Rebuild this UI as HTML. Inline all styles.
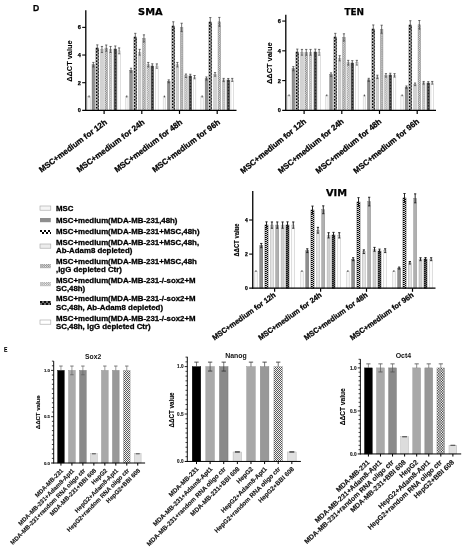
<!DOCTYPE html>
<html><head><meta charset="utf-8"><title>Figure</title>
<style>html,body{margin:0;padding:0;background:#fff}svg{display:block}</style></head>
<body>
<svg width="465" height="550" viewBox="0 0 465 550">

<defs>
<pattern id="p1" width="1.7" height="1.7" patternUnits="userSpaceOnUse"><rect width="1.7" height="1.7" fill="#fdfdfd"/><rect x="0.5" y="0.5" width="0.7" height="0.7" fill="#cfcfcf"/></pattern>
<pattern id="p3" width="3.1" height="3.1" patternUnits="userSpaceOnUse"><rect width="3.1" height="3.1" fill="#fff"/><rect x="0" y="0" width="1.55" height="1.55" fill="#000"/><rect x="1.55" y="1.55" width="1.55" height="1.55" fill="#000"/></pattern>
<pattern id="p4" width="1.4" height="1.4" patternUnits="userSpaceOnUse"><rect width="1.4" height="1.4" fill="#d6d6d6"/><rect x="0.3" y="0.3" width="0.6" height="0.6" fill="#c2c2c2"/></pattern>
<pattern id="p5" width="2.2" height="2.2" patternUnits="userSpaceOnUse"><rect width="2.2" height="2.2" fill="#787878"/><rect x="0.45" y="0" width="1.1" height="1.1" fill="#f4f4f4"/><rect x="1.55" y="1.1" width="0.65" height="1.1" fill="#f4f4f4"/><rect x="0" y="1.1" width="0.45" height="1.1" fill="#f4f4f4"/></pattern>
<pattern id="p6" width="2.2" height="2.2" patternUnits="userSpaceOnUse"><rect width="2.2" height="2.2" fill="#959595"/><rect x="0.45" y="0" width="1.1" height="1.1" fill="#f8f8f8"/><rect x="1.55" y="1.1" width="0.65" height="1.1" fill="#f8f8f8"/><rect x="0" y="1.1" width="0.45" height="1.1" fill="#f8f8f8"/></pattern>
<pattern id="p7" width="3.1" height="3.1" patternUnits="userSpaceOnUse"><rect width="3.1" height="3.1" fill="#666"/><rect x="0.7" y="0.4" width="1.7" height="1.5" fill="#1c1c1c"/></pattern>
<pattern id="v3" width="3.5" height="2" patternUnits="userSpaceOnUse"><rect width="3.5" height="2" fill="#fff"/><rect x="0" y="0" width="1.75" height="1" fill="#000"/><rect x="1.75" y="1" width="1.75" height="1" fill="#000"/></pattern>
<pattern id="v7" width="3.5" height="2" patternUnits="userSpaceOnUse"><rect width="3.5" height="2" fill="#7a7a7a"/><rect x="0" y="0" width="1.75" height="1" fill="#111"/><rect x="1.75" y="1" width="1.75" height="1" fill="#111"/></pattern>
<pattern id="pc2" width="13" height="13" patternUnits="userSpaceOnUse"><rect width="13" height="13" fill="#f4f4f4"/><path d="M0 0h1.3v1.3h-1.3zM0 2.6h1.3v1.3h-1.3zM0 5.2h1.3v1.3h-1.3zM0 7.8h1.3v1.3h-1.3zM0 10.4h1.3v1.3h-1.3zM1.3 1.3h1.3v1.3h-1.3zM1.3 3.9h1.3v1.3h-1.3zM1.3 6.5h1.3v1.3h-1.3zM1.3 9.1h1.3v1.3h-1.3zM1.3 11.7h1.3v1.3h-1.3zM2.6 0h1.3v1.3h-1.3zM2.6 2.6h1.3v1.3h-1.3zM2.6 5.2h1.3v1.3h-1.3zM2.6 7.8h1.3v1.3h-1.3zM2.6 10.4h1.3v1.3h-1.3zM3.9 1.3h1.3v1.3h-1.3zM3.9 3.9h1.3v1.3h-1.3zM3.9 6.5h1.3v1.3h-1.3zM3.9 9.1h1.3v1.3h-1.3zM3.9 11.7h1.3v1.3h-1.3zM5.2 0h1.3v1.3h-1.3zM5.2 2.6h1.3v1.3h-1.3zM5.2 5.2h1.3v1.3h-1.3zM5.2 7.8h1.3v1.3h-1.3zM5.2 10.4h1.3v1.3h-1.3zM6.5 1.3h1.3v1.3h-1.3zM6.5 3.9h1.3v1.3h-1.3zM6.5 6.5h1.3v1.3h-1.3zM6.5 9.1h1.3v1.3h-1.3zM6.5 11.7h1.3v1.3h-1.3zM7.8 0h1.3v1.3h-1.3zM7.8 2.6h1.3v1.3h-1.3zM7.8 5.2h1.3v1.3h-1.3zM7.8 7.8h1.3v1.3h-1.3zM7.8 10.4h1.3v1.3h-1.3zM9.1 1.3h1.3v1.3h-1.3zM9.1 3.9h1.3v1.3h-1.3zM9.1 6.5h1.3v1.3h-1.3zM9.1 9.1h1.3v1.3h-1.3zM9.1 11.7h1.3v1.3h-1.3zM10.4 0h1.3v1.3h-1.3zM10.4 2.6h1.3v1.3h-1.3zM10.4 5.2h1.3v1.3h-1.3zM10.4 7.8h1.3v1.3h-1.3zM10.4 10.4h1.3v1.3h-1.3zM11.7 1.3h1.3v1.3h-1.3zM11.7 3.9h1.3v1.3h-1.3zM11.7 6.5h1.3v1.3h-1.3zM11.7 9.1h1.3v1.3h-1.3zM11.7 11.7h1.3v1.3h-1.3z" fill="#4a4a4a"/></pattern>
<pattern id="l3" width="4" height="4" patternUnits="userSpaceOnUse"><rect width="4" height="4" fill="#fff"/><rect x="0" y="0" width="2" height="2" fill="#000"/><rect x="2" y="2" width="2" height="2" fill="#000"/></pattern>
<pattern id="l7" width="4" height="4" patternUnits="userSpaceOnUse"><rect width="4" height="4" fill="#6a6a6a"/><rect x="0" y="0" width="2" height="2" fill="#111"/><rect x="2" y="2" width="2" height="2" fill="#111"/></pattern>
<pattern id="pc" width="2" height="2" patternUnits="userSpaceOnUse"><rect width="2" height="2" fill="#f4f4f4"/><rect x="0" y="0" width="1" height="1" fill="#5a5a5a"/><rect x="1" y="1" width="1" height="1" fill="#5a5a5a"/></pattern>
</defs>

<rect width="465" height="550" fill="#fff"/>
<text x="33" y="10.8" font-family='"Liberation Sans", sans-serif' font-size="8.6" font-weight="bold" text-anchor="start" fill="#000" stroke="#000" stroke-width="0.25">D</text>
<text x="3.9" y="352" font-family='"Liberation Sans", sans-serif' font-size="7" font-weight="bold" text-anchor="start" fill="#000" textLength="3.4" lengthAdjust="spacingAndGlyphs" stroke="#000" stroke-width="0.15">E</text>
<g transform="translate(87.3 96.52)">
<rect x="0.45" y="0" width="2.6" height="13.83" fill="url(#p1)" stroke="#c4c4c4" stroke-width="0.45"/>
<line x1="1.75" y1="-0.9" x2="1.75" y2="0.9" stroke="#555" stroke-width="1.2"/>
</g>
<g transform="translate(91.6 64.71)">
<rect x="0.45" y="0" width="2.6" height="45.64" fill="#8e8e8e" stroke="#707070" stroke-width="0.45"/>
<line x1="1.75" y1="-2.28" x2="1.75" y2="2.28" stroke="#333" stroke-width="0.7"/>
<line x1="0.65" y1="-2.28" x2="2.85" y2="-2.28" stroke="#333" stroke-width="0.7"/>
<line x1="0.65" y1="2.28" x2="2.85" y2="2.28" stroke="#333" stroke-width="0.6"/>
</g>
<g transform="translate(96 48)">
<rect x="0" y="0" width="2.6" height="62.35" fill="url(#p3)" stroke="#000" stroke-width="0.45"/>
<line x1="1.3" y1="-3.11" x2="1.3" y2="3.11" stroke="#333" stroke-width="0.7"/>
<line x1="0.2" y1="-3.11" x2="2.4" y2="-3.11" stroke="#333" stroke-width="0.7"/>
<line x1="0.2" y1="3.11" x2="2.4" y2="3.11" stroke="#333" stroke-width="0.6"/>
</g>
<g transform="translate(100.2 49.5)">
<rect x="0.45" y="0" width="2.6" height="60.85" fill="url(#p4)" stroke="#b0b0b0" stroke-width="0.45"/>
<line x1="1.75" y1="-3.04" x2="1.75" y2="3.04" stroke="#333" stroke-width="0.7"/>
<line x1="0.65" y1="-3.04" x2="2.85" y2="-3.04" stroke="#333" stroke-width="0.7"/>
<line x1="0.65" y1="3.04" x2="2.85" y2="3.04" stroke="#333" stroke-width="0.6"/>
</g>
<g transform="translate(104.5 48.11)">
<rect x="0.45" y="0" width="2.6" height="62.23" fill="url(#p5)" stroke="#8a8a8a" stroke-width="0.45"/>
<line x1="1.75" y1="-3.11" x2="1.75" y2="3.11" stroke="#333" stroke-width="0.7"/>
<line x1="0.65" y1="-3.11" x2="2.85" y2="-3.11" stroke="#333" stroke-width="0.7"/>
<line x1="0.65" y1="3.11" x2="2.85" y2="3.11" stroke="#333" stroke-width="0.6"/>
</g>
<g transform="translate(108.8 49.5)">
<rect x="0.45" y="0" width="2.6" height="60.85" fill="url(#p6)" stroke="#a8a8a8" stroke-width="0.45"/>
<line x1="1.75" y1="-3.04" x2="1.75" y2="3.04" stroke="#333" stroke-width="0.7"/>
<line x1="0.65" y1="-3.04" x2="2.85" y2="-3.04" stroke="#333" stroke-width="0.7"/>
<line x1="0.65" y1="3.04" x2="2.85" y2="3.04" stroke="#333" stroke-width="0.6"/>
</g>
<g transform="translate(114 49)">
<rect x="0" y="0" width="2.6" height="61.35" fill="url(#p7)" stroke="#222" stroke-width="0.45"/>
<line x1="1.3" y1="-3.04" x2="1.3" y2="3.04" stroke="#333" stroke-width="0.7"/>
<line x1="0.2" y1="-3.04" x2="2.4" y2="-3.04" stroke="#333" stroke-width="0.7"/>
<line x1="0.2" y1="3.04" x2="2.4" y2="3.04" stroke="#333" stroke-width="0.6"/>
</g>
<g transform="translate(117.4 50.88)">
<rect x="0.45" y="0" width="2.6" height="59.47" fill="#ffffff" stroke="#b8b8b8" stroke-width="0.45"/>
<line x1="1.75" y1="-2.97" x2="1.75" y2="2.97" stroke="#333" stroke-width="0.7"/>
<line x1="0.65" y1="-2.97" x2="2.85" y2="-2.97" stroke="#333" stroke-width="0.7"/>
<line x1="0.65" y1="2.97" x2="2.85" y2="2.97" stroke="#333" stroke-width="0.6"/>
</g>
<g transform="translate(125 96.52)">
<rect x="0.45" y="0" width="2.6" height="13.83" fill="url(#p1)" stroke="#c4c4c4" stroke-width="0.45"/>
<line x1="1.75" y1="-0.9" x2="1.75" y2="0.9" stroke="#555" stroke-width="1.2"/>
</g>
<g transform="translate(129.3 70.24)">
<rect x="0.45" y="0" width="2.6" height="40.11" fill="#8e8e8e" stroke="#707070" stroke-width="0.45"/>
<line x1="1.75" y1="-2.01" x2="1.75" y2="2.01" stroke="#333" stroke-width="0.7"/>
<line x1="0.65" y1="-2.01" x2="2.85" y2="-2.01" stroke="#333" stroke-width="0.7"/>
<line x1="0.65" y1="2.01" x2="2.85" y2="2.01" stroke="#333" stroke-width="0.6"/>
</g>
<g transform="translate(134 37)">
<rect x="0" y="0" width="2.6" height="73.35" fill="url(#p3)" stroke="#000" stroke-width="0.45"/>
<line x1="1.3" y1="-3.66" x2="1.3" y2="3.66" stroke="#333" stroke-width="0.7"/>
<line x1="0.2" y1="-3.66" x2="2.4" y2="-3.66" stroke="#333" stroke-width="0.7"/>
<line x1="0.2" y1="3.66" x2="2.4" y2="3.66" stroke="#333" stroke-width="0.6"/>
</g>
<g transform="translate(137.9 52.26)">
<rect x="0.45" y="0" width="2.6" height="58.09" fill="url(#p4)" stroke="#b0b0b0" stroke-width="0.45"/>
<line x1="1.75" y1="-2.9" x2="1.75" y2="2.9" stroke="#333" stroke-width="0.7"/>
<line x1="0.65" y1="-2.9" x2="2.85" y2="-2.9" stroke="#333" stroke-width="0.7"/>
<line x1="0.65" y1="2.9" x2="2.85" y2="2.9" stroke="#333" stroke-width="0.6"/>
</g>
<g transform="translate(142.2 38.43)">
<rect x="0.45" y="0" width="2.6" height="71.92" fill="url(#p5)" stroke="#8a8a8a" stroke-width="0.45"/>
<line x1="1.75" y1="-3.6" x2="1.75" y2="3.6" stroke="#333" stroke-width="0.7"/>
<line x1="0.65" y1="-3.6" x2="2.85" y2="-3.6" stroke="#333" stroke-width="0.7"/>
<line x1="0.65" y1="3.6" x2="2.85" y2="3.6" stroke="#333" stroke-width="0.6"/>
</g>
<g transform="translate(146.5 64.71)">
<rect x="0.45" y="0" width="2.6" height="45.64" fill="url(#p6)" stroke="#a8a8a8" stroke-width="0.45"/>
<line x1="1.75" y1="-2.28" x2="1.75" y2="2.28" stroke="#333" stroke-width="0.7"/>
<line x1="0.65" y1="-2.28" x2="2.85" y2="-2.28" stroke="#333" stroke-width="0.7"/>
<line x1="0.65" y1="2.28" x2="2.85" y2="2.28" stroke="#333" stroke-width="0.6"/>
</g>
<g transform="translate(151 66)">
<rect x="0" y="0" width="2.6" height="44.35" fill="url(#p7)" stroke="#222" stroke-width="0.45"/>
<line x1="1.3" y1="-2.21" x2="1.3" y2="2.21" stroke="#333" stroke-width="0.7"/>
<line x1="0.2" y1="-2.21" x2="2.4" y2="-2.21" stroke="#333" stroke-width="0.7"/>
<line x1="0.2" y1="2.21" x2="2.4" y2="2.21" stroke="#333" stroke-width="0.6"/>
</g>
<g transform="translate(155.1 66.09)">
<rect x="0.45" y="0" width="2.6" height="44.26" fill="#ffffff" stroke="#b8b8b8" stroke-width="0.45"/>
<line x1="1.75" y1="-2.21" x2="1.75" y2="2.21" stroke="#333" stroke-width="0.7"/>
<line x1="0.65" y1="-2.21" x2="2.85" y2="-2.21" stroke="#333" stroke-width="0.7"/>
<line x1="0.65" y1="2.21" x2="2.85" y2="2.21" stroke="#333" stroke-width="0.6"/>
</g>
<g transform="translate(162.7 96.52)">
<rect x="0.45" y="0" width="2.6" height="13.83" fill="url(#p1)" stroke="#c4c4c4" stroke-width="0.45"/>
<line x1="1.75" y1="-0.9" x2="1.75" y2="0.9" stroke="#555" stroke-width="1.2"/>
</g>
<g transform="translate(167 81.31)">
<rect x="0.45" y="0" width="2.6" height="29.04" fill="#8e8e8e" stroke="#707070" stroke-width="0.45"/>
<line x1="1.75" y1="-1.45" x2="1.75" y2="1.45" stroke="#333" stroke-width="0.7"/>
<line x1="0.65" y1="-1.45" x2="2.85" y2="-1.45" stroke="#333" stroke-width="0.7"/>
<line x1="0.65" y1="1.45" x2="2.85" y2="1.45" stroke="#333" stroke-width="0.6"/>
</g>
<g transform="translate(172 26)">
<rect x="0" y="0" width="2.6" height="84.35" fill="url(#p3)" stroke="#000" stroke-width="0.45"/>
<line x1="1.3" y1="-4.22" x2="1.3" y2="4.22" stroke="#333" stroke-width="0.7"/>
<line x1="0.2" y1="-4.22" x2="2.4" y2="-4.22" stroke="#333" stroke-width="0.7"/>
<line x1="0.2" y1="4.22" x2="2.4" y2="4.22" stroke="#333" stroke-width="0.6"/>
</g>
<g transform="translate(175.6 64.71)">
<rect x="0.45" y="0" width="2.6" height="45.64" fill="url(#p4)" stroke="#b0b0b0" stroke-width="0.45"/>
<line x1="1.75" y1="-2.28" x2="1.75" y2="2.28" stroke="#333" stroke-width="0.7"/>
<line x1="0.65" y1="-2.28" x2="2.85" y2="-2.28" stroke="#333" stroke-width="0.7"/>
<line x1="0.65" y1="2.28" x2="2.85" y2="2.28" stroke="#333" stroke-width="0.6"/>
</g>
<g transform="translate(179.9 27.37)">
<rect x="0.45" y="0" width="2.6" height="82.98" fill="url(#p5)" stroke="#8a8a8a" stroke-width="0.45"/>
<line x1="1.75" y1="-4.15" x2="1.75" y2="4.15" stroke="#333" stroke-width="0.7"/>
<line x1="0.65" y1="-4.15" x2="2.85" y2="-4.15" stroke="#333" stroke-width="0.7"/>
<line x1="0.65" y1="4.15" x2="2.85" y2="4.15" stroke="#333" stroke-width="0.6"/>
</g>
<g transform="translate(184.2 75.77)">
<rect x="0.45" y="0" width="2.6" height="34.58" fill="url(#p6)" stroke="#a8a8a8" stroke-width="0.45"/>
<line x1="1.75" y1="-1.73" x2="1.75" y2="1.73" stroke="#333" stroke-width="0.7"/>
<line x1="0.65" y1="-1.73" x2="2.85" y2="-1.73" stroke="#333" stroke-width="0.7"/>
<line x1="0.65" y1="1.73" x2="2.85" y2="1.73" stroke="#333" stroke-width="0.6"/>
</g>
<g transform="translate(189 76)">
<rect x="0" y="0" width="2.6" height="34.35" fill="url(#p7)" stroke="#222" stroke-width="0.45"/>
<line x1="1.3" y1="-1.73" x2="1.3" y2="1.73" stroke="#333" stroke-width="0.7"/>
<line x1="0.2" y1="-1.73" x2="2.4" y2="-1.73" stroke="#333" stroke-width="0.7"/>
<line x1="0.2" y1="1.73" x2="2.4" y2="1.73" stroke="#333" stroke-width="0.6"/>
</g>
<g transform="translate(192.8 77.16)">
<rect x="0.45" y="0" width="2.6" height="33.19" fill="#ffffff" stroke="#b8b8b8" stroke-width="0.45"/>
<line x1="1.75" y1="-1.66" x2="1.75" y2="1.66" stroke="#333" stroke-width="0.7"/>
<line x1="0.65" y1="-1.66" x2="2.85" y2="-1.66" stroke="#333" stroke-width="0.7"/>
<line x1="0.65" y1="1.66" x2="2.85" y2="1.66" stroke="#333" stroke-width="0.6"/>
</g>
<g transform="translate(200.4 96.52)">
<rect x="0.45" y="0" width="2.6" height="13.83" fill="url(#p1)" stroke="#c4c4c4" stroke-width="0.45"/>
<line x1="1.75" y1="-0.9" x2="1.75" y2="0.9" stroke="#555" stroke-width="1.2"/>
</g>
<g transform="translate(204.7 78.54)">
<rect x="0.45" y="0" width="2.6" height="31.81" fill="#8e8e8e" stroke="#707070" stroke-width="0.45"/>
<line x1="1.75" y1="-1.59" x2="1.75" y2="1.59" stroke="#333" stroke-width="0.7"/>
<line x1="0.65" y1="-1.59" x2="2.85" y2="-1.59" stroke="#333" stroke-width="0.7"/>
<line x1="0.65" y1="1.59" x2="2.85" y2="1.59" stroke="#333" stroke-width="0.6"/>
</g>
<g transform="translate(209 22)">
<rect x="0" y="0" width="2.6" height="88.35" fill="url(#p3)" stroke="#000" stroke-width="0.45"/>
<line x1="1.3" y1="-4.43" x2="1.3" y2="4.43" stroke="#333" stroke-width="0.7"/>
<line x1="0.2" y1="-4.43" x2="2.4" y2="-4.43" stroke="#333" stroke-width="0.7"/>
<line x1="0.2" y1="4.43" x2="2.4" y2="4.43" stroke="#333" stroke-width="0.6"/>
</g>
<g transform="translate(213.3 74.39)">
<rect x="0.45" y="0" width="2.6" height="35.96" fill="url(#p4)" stroke="#b0b0b0" stroke-width="0.45"/>
<line x1="1.75" y1="-1.8" x2="1.75" y2="1.8" stroke="#333" stroke-width="0.7"/>
<line x1="0.65" y1="-1.8" x2="2.85" y2="-1.8" stroke="#333" stroke-width="0.7"/>
<line x1="0.65" y1="1.8" x2="2.85" y2="1.8" stroke="#333" stroke-width="0.6"/>
</g>
<g transform="translate(217.6 21.84)">
<rect x="0.45" y="0" width="2.6" height="88.51" fill="url(#p5)" stroke="#8a8a8a" stroke-width="0.45"/>
<line x1="1.75" y1="-4.43" x2="1.75" y2="4.43" stroke="#333" stroke-width="0.7"/>
<line x1="0.65" y1="-4.43" x2="2.85" y2="-4.43" stroke="#333" stroke-width="0.7"/>
<line x1="0.65" y1="4.43" x2="2.85" y2="4.43" stroke="#333" stroke-width="0.6"/>
</g>
<g transform="translate(221.9 79.92)">
<rect x="0.45" y="0" width="2.6" height="30.43" fill="url(#p6)" stroke="#a8a8a8" stroke-width="0.45"/>
<line x1="1.75" y1="-1.52" x2="1.75" y2="1.52" stroke="#333" stroke-width="0.7"/>
<line x1="0.65" y1="-1.52" x2="2.85" y2="-1.52" stroke="#333" stroke-width="0.7"/>
<line x1="0.65" y1="1.52" x2="2.85" y2="1.52" stroke="#333" stroke-width="0.6"/>
</g>
<g transform="translate(227 80)">
<rect x="0" y="0" width="2.6" height="30.35" fill="url(#p7)" stroke="#222" stroke-width="0.45"/>
<line x1="1.3" y1="-1.52" x2="1.3" y2="1.52" stroke="#333" stroke-width="0.7"/>
<line x1="0.2" y1="-1.52" x2="2.4" y2="-1.52" stroke="#333" stroke-width="0.7"/>
<line x1="0.2" y1="1.52" x2="2.4" y2="1.52" stroke="#333" stroke-width="0.6"/>
</g>
<g transform="translate(230.5 79.92)">
<rect x="0.45" y="0" width="2.6" height="30.43" fill="#ffffff" stroke="#b8b8b8" stroke-width="0.45"/>
<line x1="1.75" y1="-1.52" x2="1.75" y2="1.52" stroke="#333" stroke-width="0.7"/>
<line x1="0.65" y1="-1.52" x2="2.85" y2="-1.52" stroke="#333" stroke-width="0.7"/>
<line x1="0.65" y1="1.52" x2="2.85" y2="1.52" stroke="#333" stroke-width="0.6"/>
</g>
<line x1="85.8" y1="10.2" x2="85.8" y2="111" stroke="#000" stroke-width="1.3"/>
<line x1="82.2" y1="110.35" x2="236.5" y2="110.35" stroke="#000" stroke-width="1.3"/>
<text x="80.8" y="112.37" font-family='"Liberation Sans", sans-serif' font-size="5.6" font-weight="bold" text-anchor="end" fill="#000" stroke="#000" stroke-width="0.25">0</text>
<line x1="82.2" y1="82.69" x2="85.8" y2="82.69" stroke="#000" stroke-width="1.1"/>
<text x="80.8" y="84.71" font-family='"Liberation Sans", sans-serif' font-size="5.6" font-weight="bold" text-anchor="end" fill="#000" stroke="#000" stroke-width="0.25">2</text>
<line x1="82.2" y1="55.03" x2="85.8" y2="55.03" stroke="#000" stroke-width="1.1"/>
<text x="80.8" y="57.05" font-family='"Liberation Sans", sans-serif' font-size="5.6" font-weight="bold" text-anchor="end" fill="#000" stroke="#000" stroke-width="0.25">4</text>
<line x1="82.2" y1="27.37" x2="85.8" y2="27.37" stroke="#000" stroke-width="1.1"/>
<text x="80.8" y="29.39" font-family='"Liberation Sans", sans-serif' font-size="5.6" font-weight="bold" text-anchor="end" fill="#000" stroke="#000" stroke-width="0.25">6</text>
<text x="0" y="0" font-family='"Liberation Sans", sans-serif' font-size="7.5" font-weight="bold" text-anchor="middle" fill="#000" transform="translate(72.4 61.1) rotate(-90)" textLength="41.4" lengthAdjust="spacingAndGlyphs" stroke="#000" stroke-width="0.12">ΔΔCT value</text>
<line x1="104.1" y1="110.35" x2="104.1" y2="113.95" stroke="#000" stroke-width="1.2"/>
<text x="0" y="0" font-family='"Liberation Sans", sans-serif' font-size="8.05" font-weight="bold" text-anchor="end" fill="#000" transform="translate(107.6 123.35) rotate(-36.8)" stroke="#000" stroke-width="0.25">MSC+medium for 12h</text>
<line x1="141.8" y1="110.35" x2="141.8" y2="113.95" stroke="#000" stroke-width="1.2"/>
<text x="0" y="0" font-family='"Liberation Sans", sans-serif' font-size="8.05" font-weight="bold" text-anchor="end" fill="#000" transform="translate(145.3 123.35) rotate(-36.8)" stroke="#000" stroke-width="0.25">MSC+medium for 24h</text>
<line x1="179.5" y1="110.35" x2="179.5" y2="113.95" stroke="#000" stroke-width="1.2"/>
<text x="0" y="0" font-family='"Liberation Sans", sans-serif' font-size="8.05" font-weight="bold" text-anchor="end" fill="#000" transform="translate(183 123.35) rotate(-36.8)" stroke="#000" stroke-width="0.25">MSC+medium for 48h</text>
<line x1="217.2" y1="110.35" x2="217.2" y2="113.95" stroke="#000" stroke-width="1.2"/>
<text x="0" y="0" font-family='"Liberation Sans", sans-serif' font-size="8.05" font-weight="bold" text-anchor="end" fill="#000" transform="translate(220.7 123.35) rotate(-36.8)" stroke="#000" stroke-width="0.25">MSC+medium for 96h</text>
<text x="150.3" y="15.2" font-family='"DejaVu Sans", "Liberation Sans", sans-serif' font-size="9.4" font-weight="bold" text-anchor="middle" fill="#000" textLength="24.5" lengthAdjust="spacingAndGlyphs" stroke="#000" stroke-width="0.25">SMA</text>
<g transform="translate(287.3 95.47)">
<rect x="0.45" y="0" width="2.6" height="14.88" fill="url(#p1)" stroke="#c4c4c4" stroke-width="0.45"/>
<line x1="1.75" y1="-0.9" x2="1.75" y2="0.9" stroke="#555" stroke-width="1.2"/>
</g>
<g transform="translate(291.6 68.69)">
<rect x="0.45" y="0" width="2.6" height="41.66" fill="#8e8e8e" stroke="#707070" stroke-width="0.45"/>
<line x1="1.75" y1="-2.08" x2="1.75" y2="2.08" stroke="#333" stroke-width="0.7"/>
<line x1="0.65" y1="-2.08" x2="2.85" y2="-2.08" stroke="#333" stroke-width="0.7"/>
<line x1="0.65" y1="2.08" x2="2.85" y2="2.08" stroke="#333" stroke-width="0.6"/>
</g>
<g transform="translate(296 52)">
<rect x="0" y="0" width="2.6" height="58.35" fill="url(#p3)" stroke="#000" stroke-width="0.45"/>
<line x1="1.3" y1="-2.9" x2="1.3" y2="2.9" stroke="#333" stroke-width="0.7"/>
<line x1="0.2" y1="-2.9" x2="2.4" y2="-2.9" stroke="#333" stroke-width="0.7"/>
<line x1="0.2" y1="2.9" x2="2.4" y2="2.9" stroke="#333" stroke-width="0.6"/>
</g>
<g transform="translate(300.2 52.32)">
<rect x="0.45" y="0" width="2.6" height="58.03" fill="url(#p4)" stroke="#b0b0b0" stroke-width="0.45"/>
<line x1="1.75" y1="-2.9" x2="1.75" y2="2.9" stroke="#333" stroke-width="0.7"/>
<line x1="0.65" y1="-2.9" x2="2.85" y2="-2.9" stroke="#333" stroke-width="0.7"/>
<line x1="0.65" y1="2.9" x2="2.85" y2="2.9" stroke="#333" stroke-width="0.6"/>
</g>
<g transform="translate(304.5 52.32)">
<rect x="0.45" y="0" width="2.6" height="58.03" fill="url(#p5)" stroke="#8a8a8a" stroke-width="0.45"/>
<line x1="1.75" y1="-2.9" x2="1.75" y2="2.9" stroke="#333" stroke-width="0.7"/>
<line x1="0.65" y1="-2.9" x2="2.85" y2="-2.9" stroke="#333" stroke-width="0.7"/>
<line x1="0.65" y1="2.9" x2="2.85" y2="2.9" stroke="#333" stroke-width="0.6"/>
</g>
<g transform="translate(308.8 52.32)">
<rect x="0.45" y="0" width="2.6" height="58.03" fill="url(#p6)" stroke="#a8a8a8" stroke-width="0.45"/>
<line x1="1.75" y1="-2.9" x2="1.75" y2="2.9" stroke="#333" stroke-width="0.7"/>
<line x1="0.65" y1="-2.9" x2="2.85" y2="-2.9" stroke="#333" stroke-width="0.7"/>
<line x1="0.65" y1="2.9" x2="2.85" y2="2.9" stroke="#333" stroke-width="0.6"/>
</g>
<g transform="translate(314 52)">
<rect x="0" y="0" width="2.6" height="58.35" fill="url(#p7)" stroke="#222" stroke-width="0.45"/>
<line x1="1.3" y1="-2.9" x2="1.3" y2="2.9" stroke="#333" stroke-width="0.7"/>
<line x1="0.2" y1="-2.9" x2="2.4" y2="-2.9" stroke="#333" stroke-width="0.7"/>
<line x1="0.2" y1="2.9" x2="2.4" y2="2.9" stroke="#333" stroke-width="0.6"/>
</g>
<g transform="translate(317.4 52.32)">
<rect x="0.45" y="0" width="2.6" height="58.03" fill="#ffffff" stroke="#b8b8b8" stroke-width="0.45"/>
<line x1="1.75" y1="-2.9" x2="1.75" y2="2.9" stroke="#333" stroke-width="0.7"/>
<line x1="0.65" y1="-2.9" x2="2.85" y2="-2.9" stroke="#333" stroke-width="0.7"/>
<line x1="0.65" y1="2.9" x2="2.85" y2="2.9" stroke="#333" stroke-width="0.6"/>
</g>
<g transform="translate(325 95.47)">
<rect x="0.45" y="0" width="2.6" height="14.88" fill="url(#p1)" stroke="#c4c4c4" stroke-width="0.45"/>
<line x1="1.75" y1="-0.9" x2="1.75" y2="0.9" stroke="#555" stroke-width="1.2"/>
</g>
<g transform="translate(329.3 74.64)">
<rect x="0.45" y="0" width="2.6" height="35.71" fill="#8e8e8e" stroke="#707070" stroke-width="0.45"/>
<line x1="1.75" y1="-1.79" x2="1.75" y2="1.79" stroke="#333" stroke-width="0.7"/>
<line x1="0.65" y1="-1.79" x2="2.85" y2="-1.79" stroke="#333" stroke-width="0.7"/>
<line x1="0.65" y1="1.79" x2="2.85" y2="1.79" stroke="#333" stroke-width="0.6"/>
</g>
<g transform="translate(334 37)">
<rect x="0" y="0" width="2.6" height="73.35" fill="url(#p3)" stroke="#000" stroke-width="0.45"/>
<line x1="1.3" y1="-3.65" x2="1.3" y2="3.65" stroke="#333" stroke-width="0.7"/>
<line x1="0.2" y1="-3.65" x2="2.4" y2="-3.65" stroke="#333" stroke-width="0.7"/>
<line x1="0.2" y1="3.65" x2="2.4" y2="3.65" stroke="#333" stroke-width="0.6"/>
</g>
<g transform="translate(337.9 58.27)">
<rect x="0.45" y="0" width="2.6" height="52.08" fill="url(#p4)" stroke="#b0b0b0" stroke-width="0.45"/>
<line x1="1.75" y1="-2.6" x2="1.75" y2="2.6" stroke="#333" stroke-width="0.7"/>
<line x1="0.65" y1="-2.6" x2="2.85" y2="-2.6" stroke="#333" stroke-width="0.7"/>
<line x1="0.65" y1="2.6" x2="2.85" y2="2.6" stroke="#333" stroke-width="0.6"/>
</g>
<g transform="translate(342.2 37.44)">
<rect x="0.45" y="0" width="2.6" height="72.91" fill="url(#p5)" stroke="#8a8a8a" stroke-width="0.45"/>
<line x1="1.75" y1="-3.65" x2="1.75" y2="3.65" stroke="#333" stroke-width="0.7"/>
<line x1="0.65" y1="-3.65" x2="2.85" y2="-3.65" stroke="#333" stroke-width="0.7"/>
<line x1="0.65" y1="3.65" x2="2.85" y2="3.65" stroke="#333" stroke-width="0.6"/>
</g>
<g transform="translate(346.5 62.73)">
<rect x="0.45" y="0" width="2.6" height="47.62" fill="url(#p6)" stroke="#a8a8a8" stroke-width="0.45"/>
<line x1="1.75" y1="-2.38" x2="1.75" y2="2.38" stroke="#333" stroke-width="0.7"/>
<line x1="0.65" y1="-2.38" x2="2.85" y2="-2.38" stroke="#333" stroke-width="0.7"/>
<line x1="0.65" y1="2.38" x2="2.85" y2="2.38" stroke="#333" stroke-width="0.6"/>
</g>
<g transform="translate(351 63)">
<rect x="0" y="0" width="2.6" height="47.35" fill="url(#p7)" stroke="#222" stroke-width="0.45"/>
<line x1="1.3" y1="-2.38" x2="1.3" y2="2.38" stroke="#333" stroke-width="0.7"/>
<line x1="0.2" y1="-2.38" x2="2.4" y2="-2.38" stroke="#333" stroke-width="0.7"/>
<line x1="0.2" y1="2.38" x2="2.4" y2="2.38" stroke="#333" stroke-width="0.6"/>
</g>
<g transform="translate(355.1 62.73)">
<rect x="0.45" y="0" width="2.6" height="47.62" fill="#ffffff" stroke="#b8b8b8" stroke-width="0.45"/>
<line x1="1.75" y1="-2.38" x2="1.75" y2="2.38" stroke="#333" stroke-width="0.7"/>
<line x1="0.65" y1="-2.38" x2="2.85" y2="-2.38" stroke="#333" stroke-width="0.7"/>
<line x1="0.65" y1="2.38" x2="2.85" y2="2.38" stroke="#333" stroke-width="0.6"/>
</g>
<g transform="translate(362.7 95.47)">
<rect x="0.45" y="0" width="2.6" height="14.88" fill="url(#p1)" stroke="#c4c4c4" stroke-width="0.45"/>
<line x1="1.75" y1="-0.9" x2="1.75" y2="0.9" stroke="#555" stroke-width="1.2"/>
</g>
<g transform="translate(367 79.85)">
<rect x="0.45" y="0" width="2.6" height="30.5" fill="#8e8e8e" stroke="#707070" stroke-width="0.45"/>
<line x1="1.75" y1="-1.53" x2="1.75" y2="1.53" stroke="#333" stroke-width="0.7"/>
<line x1="0.65" y1="-1.53" x2="2.85" y2="-1.53" stroke="#333" stroke-width="0.7"/>
<line x1="0.65" y1="1.53" x2="2.85" y2="1.53" stroke="#333" stroke-width="0.6"/>
</g>
<g transform="translate(372 29)">
<rect x="0" y="0" width="2.6" height="81.35" fill="url(#p3)" stroke="#000" stroke-width="0.45"/>
<line x1="1.3" y1="-4.05" x2="1.3" y2="4.05" stroke="#333" stroke-width="0.7"/>
<line x1="0.2" y1="-4.05" x2="2.4" y2="-4.05" stroke="#333" stroke-width="0.7"/>
<line x1="0.2" y1="4.05" x2="2.4" y2="4.05" stroke="#333" stroke-width="0.6"/>
</g>
<g transform="translate(375.6 76.87)">
<rect x="0.45" y="0" width="2.6" height="33.48" fill="url(#p4)" stroke="#b0b0b0" stroke-width="0.45"/>
<line x1="1.75" y1="-1.67" x2="1.75" y2="1.67" stroke="#333" stroke-width="0.7"/>
<line x1="0.65" y1="-1.67" x2="2.85" y2="-1.67" stroke="#333" stroke-width="0.7"/>
<line x1="0.65" y1="1.67" x2="2.85" y2="1.67" stroke="#333" stroke-width="0.6"/>
</g>
<g transform="translate(379.9 29.25)">
<rect x="0.45" y="0" width="2.6" height="81.1" fill="url(#p5)" stroke="#8a8a8a" stroke-width="0.45"/>
<line x1="1.75" y1="-4.05" x2="1.75" y2="4.05" stroke="#333" stroke-width="0.7"/>
<line x1="0.65" y1="-4.05" x2="2.85" y2="-4.05" stroke="#333" stroke-width="0.7"/>
<line x1="0.65" y1="4.05" x2="2.85" y2="4.05" stroke="#333" stroke-width="0.6"/>
</g>
<g transform="translate(384.2 75.38)">
<rect x="0.45" y="0" width="2.6" height="34.97" fill="url(#p6)" stroke="#a8a8a8" stroke-width="0.45"/>
<line x1="1.75" y1="-1.75" x2="1.75" y2="1.75" stroke="#333" stroke-width="0.7"/>
<line x1="0.65" y1="-1.75" x2="2.85" y2="-1.75" stroke="#333" stroke-width="0.7"/>
<line x1="0.65" y1="1.75" x2="2.85" y2="1.75" stroke="#333" stroke-width="0.6"/>
</g>
<g transform="translate(389 75)">
<rect x="0" y="0" width="2.6" height="35.35" fill="url(#p7)" stroke="#222" stroke-width="0.45"/>
<line x1="1.3" y1="-1.75" x2="1.3" y2="1.75" stroke="#333" stroke-width="0.7"/>
<line x1="0.2" y1="-1.75" x2="2.4" y2="-1.75" stroke="#333" stroke-width="0.7"/>
<line x1="0.2" y1="1.75" x2="2.4" y2="1.75" stroke="#333" stroke-width="0.6"/>
</g>
<g transform="translate(392.8 75.38)">
<rect x="0.45" y="0" width="2.6" height="34.97" fill="#ffffff" stroke="#b8b8b8" stroke-width="0.45"/>
<line x1="1.75" y1="-1.75" x2="1.75" y2="1.75" stroke="#333" stroke-width="0.7"/>
<line x1="0.65" y1="-1.75" x2="2.85" y2="-1.75" stroke="#333" stroke-width="0.7"/>
<line x1="0.65" y1="1.75" x2="2.85" y2="1.75" stroke="#333" stroke-width="0.6"/>
</g>
<g transform="translate(400.4 95.47)">
<rect x="0.45" y="0" width="2.6" height="14.88" fill="url(#p1)" stroke="#c4c4c4" stroke-width="0.45"/>
<line x1="1.75" y1="-0.9" x2="1.75" y2="0.9" stroke="#555" stroke-width="1.2"/>
</g>
<g transform="translate(404.7 87.14)">
<rect x="0.45" y="0" width="2.6" height="23.21" fill="#8e8e8e" stroke="#707070" stroke-width="0.45"/>
<line x1="1.75" y1="-1.16" x2="1.75" y2="1.16" stroke="#333" stroke-width="0.7"/>
<line x1="0.65" y1="-1.16" x2="2.85" y2="-1.16" stroke="#333" stroke-width="0.7"/>
<line x1="0.65" y1="1.16" x2="2.85" y2="1.16" stroke="#333" stroke-width="0.6"/>
</g>
<g transform="translate(409 25)">
<rect x="0" y="0" width="2.6" height="85.35" fill="url(#p3)" stroke="#000" stroke-width="0.45"/>
<line x1="1.3" y1="-4.28" x2="1.3" y2="4.28" stroke="#333" stroke-width="0.7"/>
<line x1="0.2" y1="-4.28" x2="2.4" y2="-4.28" stroke="#333" stroke-width="0.7"/>
<line x1="0.2" y1="4.28" x2="2.4" y2="4.28" stroke="#333" stroke-width="0.6"/>
</g>
<g transform="translate(413.3 84.31)">
<rect x="0.45" y="0" width="2.6" height="26.04" fill="url(#p4)" stroke="#b0b0b0" stroke-width="0.45"/>
<line x1="1.75" y1="-1.3" x2="1.75" y2="1.3" stroke="#333" stroke-width="0.7"/>
<line x1="0.65" y1="-1.3" x2="2.85" y2="-1.3" stroke="#333" stroke-width="0.7"/>
<line x1="0.65" y1="1.3" x2="2.85" y2="1.3" stroke="#333" stroke-width="0.6"/>
</g>
<g transform="translate(417.6 24.79)">
<rect x="0.45" y="0" width="2.6" height="85.56" fill="url(#p5)" stroke="#8a8a8a" stroke-width="0.45"/>
<line x1="1.75" y1="-4.28" x2="1.75" y2="4.28" stroke="#333" stroke-width="0.7"/>
<line x1="0.65" y1="-4.28" x2="2.85" y2="-4.28" stroke="#333" stroke-width="0.7"/>
<line x1="0.65" y1="4.28" x2="2.85" y2="4.28" stroke="#333" stroke-width="0.6"/>
</g>
<g transform="translate(421.9 82.82)">
<rect x="0.45" y="0" width="2.6" height="27.53" fill="url(#p6)" stroke="#a8a8a8" stroke-width="0.45"/>
<line x1="1.75" y1="-1.38" x2="1.75" y2="1.38" stroke="#333" stroke-width="0.7"/>
<line x1="0.65" y1="-1.38" x2="2.85" y2="-1.38" stroke="#333" stroke-width="0.7"/>
<line x1="0.65" y1="1.38" x2="2.85" y2="1.38" stroke="#333" stroke-width="0.6"/>
</g>
<g transform="translate(427 83)">
<rect x="0" y="0" width="2.6" height="27.35" fill="url(#p7)" stroke="#222" stroke-width="0.45"/>
<line x1="1.3" y1="-1.38" x2="1.3" y2="1.38" stroke="#333" stroke-width="0.7"/>
<line x1="0.2" y1="-1.38" x2="2.4" y2="-1.38" stroke="#333" stroke-width="0.7"/>
<line x1="0.2" y1="1.38" x2="2.4" y2="1.38" stroke="#333" stroke-width="0.6"/>
</g>
<g transform="translate(430.5 82.82)">
<rect x="0.45" y="0" width="2.6" height="27.53" fill="#ffffff" stroke="#b8b8b8" stroke-width="0.45"/>
<line x1="1.75" y1="-1.38" x2="1.75" y2="1.38" stroke="#333" stroke-width="0.7"/>
<line x1="0.65" y1="-1.38" x2="2.85" y2="-1.38" stroke="#333" stroke-width="0.7"/>
<line x1="0.65" y1="1.38" x2="2.85" y2="1.38" stroke="#333" stroke-width="0.6"/>
</g>
<line x1="285.8" y1="14.7" x2="285.8" y2="111" stroke="#000" stroke-width="1.3"/>
<line x1="282.2" y1="110.35" x2="436" y2="110.35" stroke="#000" stroke-width="1.3"/>
<text x="280.8" y="112.37" font-family='"Liberation Sans", sans-serif' font-size="5.6" font-weight="bold" text-anchor="end" fill="#000" stroke="#000" stroke-width="0.25">0</text>
<line x1="282.2" y1="80.59" x2="285.8" y2="80.59" stroke="#000" stroke-width="1.1"/>
<text x="280.8" y="82.61" font-family='"Liberation Sans", sans-serif' font-size="5.6" font-weight="bold" text-anchor="end" fill="#000" stroke="#000" stroke-width="0.25">2</text>
<line x1="282.2" y1="50.83" x2="285.8" y2="50.83" stroke="#000" stroke-width="1.1"/>
<text x="280.8" y="52.85" font-family='"Liberation Sans", sans-serif' font-size="5.6" font-weight="bold" text-anchor="end" fill="#000" stroke="#000" stroke-width="0.25">4</text>
<line x1="282.2" y1="21.07" x2="285.8" y2="21.07" stroke="#000" stroke-width="1.1"/>
<text x="280.8" y="23.09" font-family='"Liberation Sans", sans-serif' font-size="5.6" font-weight="bold" text-anchor="end" fill="#000" stroke="#000" stroke-width="0.25">6</text>
<text x="0" y="0" font-family='"Liberation Sans", sans-serif' font-size="7.5" font-weight="bold" text-anchor="middle" fill="#000" transform="translate(272.4 63.2) rotate(-90)" textLength="41.5" lengthAdjust="spacingAndGlyphs" stroke="#000" stroke-width="0.12">ΔΔCT value</text>
<line x1="304.1" y1="110.35" x2="304.1" y2="113.95" stroke="#000" stroke-width="1.2"/>
<text x="0" y="0" font-family='"Liberation Sans", sans-serif' font-size="8" font-weight="bold" text-anchor="end" fill="#000" transform="translate(306.7 122.35) rotate(-39)" stroke="#000" stroke-width="0.25">MSC+medium for 12h</text>
<line x1="341.8" y1="110.35" x2="341.8" y2="113.95" stroke="#000" stroke-width="1.2"/>
<text x="0" y="0" font-family='"Liberation Sans", sans-serif' font-size="8" font-weight="bold" text-anchor="end" fill="#000" transform="translate(344.4 122.35) rotate(-39)" stroke="#000" stroke-width="0.25">MSC+medium for 24h</text>
<line x1="379.5" y1="110.35" x2="379.5" y2="113.95" stroke="#000" stroke-width="1.2"/>
<text x="0" y="0" font-family='"Liberation Sans", sans-serif' font-size="8" font-weight="bold" text-anchor="end" fill="#000" transform="translate(382.1 122.35) rotate(-39)" stroke="#000" stroke-width="0.25">MSC+medium for 48h</text>
<line x1="417.2" y1="110.35" x2="417.2" y2="113.95" stroke="#000" stroke-width="1.2"/>
<text x="0" y="0" font-family='"Liberation Sans", sans-serif' font-size="8" font-weight="bold" text-anchor="end" fill="#000" transform="translate(419.8 122.35) rotate(-39)" stroke="#000" stroke-width="0.25">MSC+medium for 96h</text>
<text x="354.2" y="15.2" font-family='"DejaVu Sans", "Liberation Sans", sans-serif' font-size="9.4" font-weight="bold" text-anchor="middle" fill="#000" textLength="19.6" lengthAdjust="spacingAndGlyphs" stroke="#000" stroke-width="0.25">TEN</text>
<g transform="translate(254 271.15)">
<rect x="0.45" y="0" width="3" height="17.05" fill="url(#p1)" stroke="#c4c4c4" stroke-width="0.45"/>
<line x1="1.95" y1="-0.9" x2="1.95" y2="0.9" stroke="#555" stroke-width="1.2"/>
</g>
<g transform="translate(259.33 245.57)">
<rect x="0.45" y="0" width="3" height="42.62" fill="#8e8e8e" stroke="#707070" stroke-width="0.45"/>
<line x1="1.95" y1="-2.13" x2="1.95" y2="2.13" stroke="#1a1a1a" stroke-width="0.95"/>
<line x1="0.85" y1="-2.13" x2="3.05" y2="-2.13" stroke="#1a1a1a" stroke-width="0.95"/>
<line x1="0.85" y1="2.13" x2="3.05" y2="2.13" stroke="#1a1a1a" stroke-width="0.85"/>
</g>
<g transform="translate(265 225)">
<rect x="0" y="0" width="3" height="63.2" fill="url(#v3)" stroke="#000" stroke-width="0.45"/>
<line x1="1.5" y1="-3.15" x2="1.5" y2="3.15" stroke="#1a1a1a" stroke-width="0.95"/>
<line x1="0.4" y1="-3.15" x2="2.6" y2="-3.15" stroke="#1a1a1a" stroke-width="0.95"/>
<line x1="0.4" y1="3.15" x2="2.6" y2="3.15" stroke="#1a1a1a" stroke-width="0.85"/>
</g>
<g transform="translate(269.99 225.11)">
<rect x="0.45" y="0" width="3" height="63.09" fill="#e2e2e2" stroke="#a8a8a8" stroke-width="0.45"/>
<line x1="1.95" y1="-3.15" x2="1.95" y2="3.15" stroke="#1a1a1a" stroke-width="0.95"/>
<line x1="0.85" y1="-3.15" x2="3.05" y2="-3.15" stroke="#1a1a1a" stroke-width="0.95"/>
<line x1="0.85" y1="3.15" x2="3.05" y2="3.15" stroke="#1a1a1a" stroke-width="0.85"/>
</g>
<g transform="translate(275.32 225.11)">
<rect x="0.45" y="0" width="3" height="63.09" fill="#b0b0b0" stroke="#8a8a8a" stroke-width="0.45"/>
<line x1="1.95" y1="-3.15" x2="1.95" y2="3.15" stroke="#1a1a1a" stroke-width="0.95"/>
<line x1="0.85" y1="-3.15" x2="3.05" y2="-3.15" stroke="#1a1a1a" stroke-width="0.95"/>
<line x1="0.85" y1="3.15" x2="3.05" y2="3.15" stroke="#1a1a1a" stroke-width="0.85"/>
</g>
<g transform="translate(280.65 225.11)">
<rect x="0.45" y="0" width="3" height="63.09" fill="#d0d0d0" stroke="#a8a8a8" stroke-width="0.45"/>
<line x1="1.95" y1="-3.15" x2="1.95" y2="3.15" stroke="#1a1a1a" stroke-width="0.95"/>
<line x1="0.85" y1="-3.15" x2="3.05" y2="-3.15" stroke="#1a1a1a" stroke-width="0.95"/>
<line x1="0.85" y1="3.15" x2="3.05" y2="3.15" stroke="#1a1a1a" stroke-width="0.85"/>
</g>
<g transform="translate(286 225)">
<rect x="0" y="0" width="3" height="63.2" fill="url(#v7)" stroke="#222" stroke-width="0.45"/>
<line x1="1.5" y1="-3.15" x2="1.5" y2="3.15" stroke="#1a1a1a" stroke-width="0.95"/>
<line x1="0.4" y1="-3.15" x2="2.6" y2="-3.15" stroke="#1a1a1a" stroke-width="0.95"/>
<line x1="0.4" y1="3.15" x2="2.6" y2="3.15" stroke="#1a1a1a" stroke-width="0.85"/>
</g>
<g transform="translate(291.31 225.11)">
<rect x="0.45" y="0" width="3" height="63.09" fill="#fcfcfc" stroke="#b8b8b8" stroke-width="0.45"/>
<line x1="1.95" y1="-3.15" x2="1.95" y2="3.15" stroke="#1a1a1a" stroke-width="0.95"/>
<line x1="0.85" y1="-3.15" x2="3.05" y2="-3.15" stroke="#1a1a1a" stroke-width="0.95"/>
<line x1="0.85" y1="3.15" x2="3.05" y2="3.15" stroke="#1a1a1a" stroke-width="0.85"/>
</g>
<g transform="translate(300 271.15)">
<rect x="0.45" y="0" width="3" height="17.05" fill="url(#p1)" stroke="#c4c4c4" stroke-width="0.45"/>
<line x1="1.95" y1="-0.9" x2="1.95" y2="0.9" stroke="#555" stroke-width="1.2"/>
</g>
<g transform="translate(305.33 250.69)">
<rect x="0.45" y="0" width="3" height="37.51" fill="#8e8e8e" stroke="#707070" stroke-width="0.45"/>
<line x1="1.95" y1="-1.88" x2="1.95" y2="1.88" stroke="#1a1a1a" stroke-width="0.95"/>
<line x1="0.85" y1="-1.88" x2="3.05" y2="-1.88" stroke="#1a1a1a" stroke-width="0.95"/>
<line x1="0.85" y1="1.88" x2="3.05" y2="1.88" stroke="#1a1a1a" stroke-width="0.85"/>
</g>
<g transform="translate(311 210)">
<rect x="0" y="0" width="3" height="78.2" fill="url(#v3)" stroke="#000" stroke-width="0.45"/>
<line x1="1.5" y1="-3.92" x2="1.5" y2="3.92" stroke="#1a1a1a" stroke-width="0.95"/>
<line x1="0.4" y1="-3.92" x2="2.6" y2="-3.92" stroke="#1a1a1a" stroke-width="0.95"/>
<line x1="0.4" y1="3.92" x2="2.6" y2="3.92" stroke="#1a1a1a" stroke-width="0.85"/>
</g>
<g transform="translate(315.99 230.23)">
<rect x="0.45" y="0" width="3" height="57.97" fill="#e2e2e2" stroke="#a8a8a8" stroke-width="0.45"/>
<line x1="1.95" y1="-2.9" x2="1.95" y2="2.9" stroke="#1a1a1a" stroke-width="0.95"/>
<line x1="0.85" y1="-2.9" x2="3.05" y2="-2.9" stroke="#1a1a1a" stroke-width="0.95"/>
<line x1="0.85" y1="2.9" x2="3.05" y2="2.9" stroke="#1a1a1a" stroke-width="0.85"/>
</g>
<g transform="translate(321.32 209.77)">
<rect x="0.45" y="0" width="3" height="78.43" fill="#b0b0b0" stroke="#8a8a8a" stroke-width="0.45"/>
<line x1="1.95" y1="-3.92" x2="1.95" y2="3.92" stroke="#1a1a1a" stroke-width="0.95"/>
<line x1="0.85" y1="-3.92" x2="3.05" y2="-3.92" stroke="#1a1a1a" stroke-width="0.95"/>
<line x1="0.85" y1="3.92" x2="3.05" y2="3.92" stroke="#1a1a1a" stroke-width="0.85"/>
</g>
<g transform="translate(326.65 235.34)">
<rect x="0.45" y="0" width="3" height="52.86" fill="#d0d0d0" stroke="#a8a8a8" stroke-width="0.45"/>
<line x1="1.95" y1="-2.64" x2="1.95" y2="2.64" stroke="#1a1a1a" stroke-width="0.95"/>
<line x1="0.85" y1="-2.64" x2="3.05" y2="-2.64" stroke="#1a1a1a" stroke-width="0.95"/>
<line x1="0.85" y1="2.64" x2="3.05" y2="2.64" stroke="#1a1a1a" stroke-width="0.85"/>
</g>
<g transform="translate(332 235)">
<rect x="0" y="0" width="3" height="53.2" fill="url(#v7)" stroke="#222" stroke-width="0.45"/>
<line x1="1.5" y1="-2.64" x2="1.5" y2="2.64" stroke="#1a1a1a" stroke-width="0.95"/>
<line x1="0.4" y1="-2.64" x2="2.6" y2="-2.64" stroke="#1a1a1a" stroke-width="0.95"/>
<line x1="0.4" y1="2.64" x2="2.6" y2="2.64" stroke="#1a1a1a" stroke-width="0.85"/>
</g>
<g transform="translate(337.31 235.34)">
<rect x="0.45" y="0" width="3" height="52.86" fill="#fcfcfc" stroke="#b8b8b8" stroke-width="0.45"/>
<line x1="1.95" y1="-2.64" x2="1.95" y2="2.64" stroke="#1a1a1a" stroke-width="0.95"/>
<line x1="0.85" y1="-2.64" x2="3.05" y2="-2.64" stroke="#1a1a1a" stroke-width="0.95"/>
<line x1="0.85" y1="2.64" x2="3.05" y2="2.64" stroke="#1a1a1a" stroke-width="0.85"/>
</g>
<g transform="translate(345.9 271.15)">
<rect x="0.45" y="0" width="3" height="17.05" fill="url(#p1)" stroke="#c4c4c4" stroke-width="0.45"/>
<line x1="1.95" y1="-0.9" x2="1.95" y2="0.9" stroke="#555" stroke-width="1.2"/>
</g>
<g transform="translate(351.23 259.21)">
<rect x="0.45" y="0" width="3" height="28.98" fill="#8e8e8e" stroke="#707070" stroke-width="0.45"/>
<line x1="1.95" y1="-1.45" x2="1.95" y2="1.45" stroke="#1a1a1a" stroke-width="0.95"/>
<line x1="0.85" y1="-1.45" x2="3.05" y2="-1.45" stroke="#1a1a1a" stroke-width="0.95"/>
<line x1="0.85" y1="1.45" x2="3.05" y2="1.45" stroke="#1a1a1a" stroke-width="0.85"/>
</g>
<g transform="translate(357 202)">
<rect x="0" y="0" width="3" height="86.2" fill="url(#v3)" stroke="#000" stroke-width="0.45"/>
<line x1="1.5" y1="-4.33" x2="1.5" y2="4.33" stroke="#1a1a1a" stroke-width="0.95"/>
<line x1="0.4" y1="-4.33" x2="2.6" y2="-4.33" stroke="#1a1a1a" stroke-width="0.95"/>
<line x1="0.4" y1="4.33" x2="2.6" y2="4.33" stroke="#1a1a1a" stroke-width="0.85"/>
</g>
<g transform="translate(361.89 251.71)">
<rect x="0.45" y="0" width="3" height="36.49" fill="#e2e2e2" stroke="#a8a8a8" stroke-width="0.45"/>
<line x1="1.95" y1="-1.82" x2="1.95" y2="1.82" stroke="#1a1a1a" stroke-width="0.95"/>
<line x1="0.85" y1="-1.82" x2="3.05" y2="-1.82" stroke="#1a1a1a" stroke-width="0.95"/>
<line x1="0.85" y1="1.82" x2="3.05" y2="1.82" stroke="#1a1a1a" stroke-width="0.85"/>
</g>
<g transform="translate(367.22 201.59)">
<rect x="0.45" y="0" width="3" height="86.61" fill="#b0b0b0" stroke="#8a8a8a" stroke-width="0.45"/>
<line x1="1.95" y1="-4.33" x2="1.95" y2="4.33" stroke="#1a1a1a" stroke-width="0.95"/>
<line x1="0.85" y1="-4.33" x2="3.05" y2="-4.33" stroke="#1a1a1a" stroke-width="0.95"/>
<line x1="0.85" y1="4.33" x2="3.05" y2="4.33" stroke="#1a1a1a" stroke-width="0.85"/>
</g>
<g transform="translate(372.55 249.33)">
<rect x="0.45" y="0" width="3" height="38.87" fill="#d0d0d0" stroke="#a8a8a8" stroke-width="0.45"/>
<line x1="1.95" y1="-1.94" x2="1.95" y2="1.94" stroke="#1a1a1a" stroke-width="0.95"/>
<line x1="0.85" y1="-1.94" x2="3.05" y2="-1.94" stroke="#1a1a1a" stroke-width="0.95"/>
<line x1="0.85" y1="1.94" x2="3.05" y2="1.94" stroke="#1a1a1a" stroke-width="0.85"/>
</g>
<g transform="translate(378 251)">
<rect x="0" y="0" width="3" height="37.2" fill="url(#v7)" stroke="#222" stroke-width="0.45"/>
<line x1="1.5" y1="-1.88" x2="1.5" y2="1.88" stroke="#1a1a1a" stroke-width="0.95"/>
<line x1="0.4" y1="-1.88" x2="2.6" y2="-1.88" stroke="#1a1a1a" stroke-width="0.95"/>
<line x1="0.4" y1="1.88" x2="2.6" y2="1.88" stroke="#1a1a1a" stroke-width="0.85"/>
</g>
<g transform="translate(383.21 250.69)">
<rect x="0.45" y="0" width="3" height="37.51" fill="#fcfcfc" stroke="#b8b8b8" stroke-width="0.45"/>
<line x1="1.95" y1="-1.88" x2="1.95" y2="1.88" stroke="#1a1a1a" stroke-width="0.95"/>
<line x1="0.85" y1="-1.88" x2="3.05" y2="-1.88" stroke="#1a1a1a" stroke-width="0.95"/>
<line x1="0.85" y1="1.88" x2="3.05" y2="1.88" stroke="#1a1a1a" stroke-width="0.85"/>
</g>
<g transform="translate(391.9 271.15)">
<rect x="0.45" y="0" width="3" height="17.05" fill="url(#p1)" stroke="#c4c4c4" stroke-width="0.45"/>
<line x1="1.95" y1="-0.9" x2="1.95" y2="0.9" stroke="#555" stroke-width="1.2"/>
</g>
<g transform="translate(397.23 268.08)">
<rect x="0.45" y="0" width="3" height="20.12" fill="#8e8e8e" stroke="#707070" stroke-width="0.45"/>
<line x1="1.95" y1="-1.01" x2="1.95" y2="1.01" stroke="#1a1a1a" stroke-width="0.95"/>
<line x1="0.85" y1="-1.01" x2="3.05" y2="-1.01" stroke="#1a1a1a" stroke-width="0.95"/>
<line x1="0.85" y1="1.01" x2="3.05" y2="1.01" stroke="#1a1a1a" stroke-width="0.85"/>
</g>
<g transform="translate(403 198)">
<rect x="0" y="0" width="3" height="90.2" fill="url(#v3)" stroke="#000" stroke-width="0.45"/>
<line x1="1.5" y1="-4.49" x2="1.5" y2="4.49" stroke="#1a1a1a" stroke-width="0.95"/>
<line x1="0.4" y1="-4.49" x2="2.6" y2="-4.49" stroke="#1a1a1a" stroke-width="0.95"/>
<line x1="0.4" y1="4.49" x2="2.6" y2="4.49" stroke="#1a1a1a" stroke-width="0.85"/>
</g>
<g transform="translate(407.89 262.8)">
<rect x="0.45" y="0" width="3" height="25.4" fill="#e2e2e2" stroke="#a8a8a8" stroke-width="0.45"/>
<line x1="1.95" y1="-1.27" x2="1.95" y2="1.27" stroke="#1a1a1a" stroke-width="0.95"/>
<line x1="0.85" y1="-1.27" x2="3.05" y2="-1.27" stroke="#1a1a1a" stroke-width="0.95"/>
<line x1="0.85" y1="1.27" x2="3.05" y2="1.27" stroke="#1a1a1a" stroke-width="0.85"/>
</g>
<g transform="translate(413.22 198.35)">
<rect x="0.45" y="0" width="3" height="89.85" fill="#b0b0b0" stroke="#8a8a8a" stroke-width="0.45"/>
<line x1="1.95" y1="-4.49" x2="1.95" y2="4.49" stroke="#1a1a1a" stroke-width="0.95"/>
<line x1="0.85" y1="-4.49" x2="3.05" y2="-4.49" stroke="#1a1a1a" stroke-width="0.95"/>
<line x1="0.85" y1="4.49" x2="3.05" y2="4.49" stroke="#1a1a1a" stroke-width="0.85"/>
</g>
<g transform="translate(418.55 259.21)">
<rect x="0.45" y="0" width="3" height="28.98" fill="#d0d0d0" stroke="#a8a8a8" stroke-width="0.45"/>
<line x1="1.95" y1="-1.45" x2="1.95" y2="1.45" stroke="#1a1a1a" stroke-width="0.95"/>
<line x1="0.85" y1="-1.45" x2="3.05" y2="-1.45" stroke="#1a1a1a" stroke-width="0.95"/>
<line x1="0.85" y1="1.45" x2="3.05" y2="1.45" stroke="#1a1a1a" stroke-width="0.85"/>
</g>
<g transform="translate(424 259)">
<rect x="0" y="0" width="3" height="29.2" fill="url(#v7)" stroke="#222" stroke-width="0.45"/>
<line x1="1.5" y1="-1.45" x2="1.5" y2="1.45" stroke="#1a1a1a" stroke-width="0.95"/>
<line x1="0.4" y1="-1.45" x2="2.6" y2="-1.45" stroke="#1a1a1a" stroke-width="0.95"/>
<line x1="0.4" y1="1.45" x2="2.6" y2="1.45" stroke="#1a1a1a" stroke-width="0.85"/>
</g>
<g transform="translate(429.21 259.21)">
<rect x="0.45" y="0" width="3" height="28.98" fill="#fcfcfc" stroke="#b8b8b8" stroke-width="0.45"/>
<line x1="1.95" y1="-1.45" x2="1.95" y2="1.45" stroke="#1a1a1a" stroke-width="0.95"/>
<line x1="0.85" y1="-1.45" x2="3.05" y2="-1.45" stroke="#1a1a1a" stroke-width="0.95"/>
<line x1="0.85" y1="1.45" x2="3.05" y2="1.45" stroke="#1a1a1a" stroke-width="0.85"/>
</g>
<line x1="252.75" y1="190.9" x2="252.75" y2="288.85" stroke="#000" stroke-width="1.3"/>
<line x1="249.15" y1="288.2" x2="435.5" y2="288.2" stroke="#000" stroke-width="1.3"/>
<text x="247.75" y="290" font-family='"Liberation Sans", sans-serif' font-size="5" font-weight="bold" text-anchor="end" fill="#000" stroke="#000" stroke-width="0.25">0</text>
<line x1="249.15" y1="254.1" x2="252.75" y2="254.1" stroke="#000" stroke-width="1.1"/>
<text x="247.75" y="255.9" font-family='"Liberation Sans", sans-serif' font-size="5" font-weight="bold" text-anchor="end" fill="#000" stroke="#000" stroke-width="0.25">2</text>
<line x1="249.15" y1="220" x2="252.75" y2="220" stroke="#000" stroke-width="1.1"/>
<text x="247.75" y="221.8" font-family='"Liberation Sans", sans-serif' font-size="5" font-weight="bold" text-anchor="end" fill="#000" stroke="#000" stroke-width="0.25">4</text>
<text x="0" y="0" font-family='"Liberation Sans", sans-serif' font-size="7.4" font-weight="bold" text-anchor="middle" fill="#000" transform="translate(238.8 240) rotate(-90)" textLength="32.8" lengthAdjust="spacingAndGlyphs" stroke="#000" stroke-width="0.12">ΔΔCT value</text>
<line x1="274.61" y1="288.2" x2="274.61" y2="291.8" stroke="#000" stroke-width="1.2"/>
<text x="0" y="0" font-family='"Liberation Sans", sans-serif' font-size="7.45" font-weight="bold" text-anchor="end" fill="#000" transform="translate(276.31 296.1) rotate(-35.7)" stroke="#000" stroke-width="0.25">MSC+medium for 12h</text>
<line x1="320.61" y1="288.2" x2="320.61" y2="291.8" stroke="#000" stroke-width="1.2"/>
<text x="0" y="0" font-family='"Liberation Sans", sans-serif' font-size="7.45" font-weight="bold" text-anchor="end" fill="#000" transform="translate(322.31 296.1) rotate(-35.7)" stroke="#000" stroke-width="0.25">MSC+medium for 24h</text>
<line x1="366.5" y1="288.2" x2="366.5" y2="291.8" stroke="#000" stroke-width="1.2"/>
<text x="0" y="0" font-family='"Liberation Sans", sans-serif' font-size="7.45" font-weight="bold" text-anchor="end" fill="#000" transform="translate(368.2 296.1) rotate(-35.7)" stroke="#000" stroke-width="0.25">MSC+medium for 48h</text>
<line x1="412.5" y1="288.2" x2="412.5" y2="291.8" stroke="#000" stroke-width="1.2"/>
<text x="0" y="0" font-family='"Liberation Sans", sans-serif' font-size="7.45" font-weight="bold" text-anchor="end" fill="#000" transform="translate(414.2 296.1) rotate(-35.7)" stroke="#000" stroke-width="0.25">MSC+medium for 96h</text>
<text x="336.5" y="195.5" font-family='"DejaVu Sans", "Liberation Sans", sans-serif' font-size="9.4" font-weight="bold" text-anchor="middle" fill="#000" textLength="21" lengthAdjust="spacingAndGlyphs" stroke="#000" stroke-width="0.25">VIM</text>
<g transform="translate(40 206)">
<rect x="0" y="0" width="10.8" height="4.2" fill="url(#p1)" stroke="#a4a4a4" stroke-width="0.6"/>
</g>
<g transform="translate(56 0) scale(1.19 1)">
<text x="0" y="210.9" font-family='"Liberation Sans", sans-serif' font-size="6.6" font-weight="bold" text-anchor="start" fill="#000" stroke="#000" stroke-width="0.25">MSC</text>
</g>
<g transform="translate(40 218)">
<rect x="0" y="0" width="10.8" height="4.2" fill="#8e8e8e"/>
</g>
<g transform="translate(56 0) scale(1.19 1)">
<text x="0" y="222.6" font-family='"Liberation Sans", sans-serif' font-size="6.6" font-weight="bold" text-anchor="start" fill="#000" stroke="#000" stroke-width="0.25">MSC+medium(MDA-MB-231,48h)</text>
</g>
<g transform="translate(40 230)">
<rect x="0" y="0" width="11" height="4" fill="url(#l3)"/>
</g>
<g transform="translate(56 0) scale(1.19 1)">
<text x="0" y="234.2" font-family='"Liberation Sans", sans-serif' font-size="6.6" font-weight="bold" text-anchor="start" fill="#000" stroke="#000" stroke-width="0.25">MSC+medium(MDA-MB-231+MSC,48h)</text>
</g>
<g transform="translate(40 244)">
<rect x="0" y="0" width="10.8" height="4.2" fill="#ececec" stroke="#a4a4a4" stroke-width="0.6"/>
</g>
<g transform="translate(56 0) scale(1.19 1)">
<text x="0" y="244.7" font-family='"Liberation Sans", sans-serif' font-size="6.6" font-weight="bold" text-anchor="start" fill="#000" stroke="#000" stroke-width="0.25">MSC+medium(MDA-MB-231+MSC,48h,</text>
<text x="0" y="252.9" font-family='"Liberation Sans", sans-serif' font-size="6.6" font-weight="bold" text-anchor="start" fill="#000" stroke="#000" stroke-width="0.25">Ab-Adam8 depleted)</text>
</g>
<g transform="translate(40 264)">
<rect x="0" y="0" width="10.8" height="4.2" fill="url(#p5)"/>
</g>
<g transform="translate(56 0) scale(1.19 1)">
<text x="0" y="264.3" font-family='"Liberation Sans", sans-serif' font-size="6.6" font-weight="bold" text-anchor="start" fill="#000" stroke="#000" stroke-width="0.25">MSC+medium(MDA-MB-231+MSC,48h</text>
<text x="0" y="272.5" font-family='"Liberation Sans", sans-serif' font-size="6.6" font-weight="bold" text-anchor="start" fill="#000" stroke="#000" stroke-width="0.25">,IgG depleted Ctr)</text>
</g>
<g transform="translate(40 282)">
<rect x="0" y="0" width="10.8" height="4.2" fill="url(#p6)"/>
</g>
<g transform="translate(56 0) scale(1.19 1)">
<text x="0" y="282.9" font-family='"Liberation Sans", sans-serif' font-size="6.6" font-weight="bold" text-anchor="start" fill="#000" stroke="#000" stroke-width="0.25">MSC+medium(MDA-MB-231-/-sox2+M</text>
<text x="0" y="291.1" font-family='"Liberation Sans", sans-serif' font-size="6.6" font-weight="bold" text-anchor="start" fill="#000" stroke="#000" stroke-width="0.25">SC,48h)</text>
</g>
<g transform="translate(40 301)">
<rect x="0" y="0" width="11" height="4" fill="url(#l7)"/>
</g>
<g transform="translate(56 0) scale(1.19 1)">
<text x="0" y="301.5" font-family='"Liberation Sans", sans-serif' font-size="6.6" font-weight="bold" text-anchor="start" fill="#000" stroke="#000" stroke-width="0.25">MSC+medium(MDA-MB-231-/-sox2+M</text>
<text x="0" y="309.7" font-family='"Liberation Sans", sans-serif' font-size="6.6" font-weight="bold" text-anchor="start" fill="#000" stroke="#000" stroke-width="0.25">SC,48h, Ab-Adam8 depleted)</text>
</g>
<g transform="translate(40 320)">
<rect x="0" y="0" width="10.8" height="4.2" fill="#ffffff" stroke="#a4a4a4" stroke-width="0.6"/>
</g>
<g transform="translate(56 0) scale(1.19 1)">
<text x="0" y="320.9" font-family='"Liberation Sans", sans-serif' font-size="6.6" font-weight="bold" text-anchor="start" fill="#000" stroke="#000" stroke-width="0.25">MSC+medium(MDA-MB-231-/-sox2+M</text>
<text x="0" y="329.1" font-family='"Liberation Sans", sans-serif' font-size="6.6" font-weight="bold" text-anchor="start" fill="#000" stroke="#000" stroke-width="0.25">SC,48h, IgG depleted Ctr)</text>
</g>
<rect x="57.6" y="370.4" width="6.7" height="92.6" fill="#000" stroke="#000" stroke-width="0.4"/>
<line x1="60.95" y1="366.05" x2="60.95" y2="370.4" stroke="#666" stroke-width="0.65"/>
<line x1="59.25" y1="366.05" x2="62.65" y2="366.05" stroke="#666" stroke-width="0.85"/>
<line x1="60.95" y1="463" x2="60.95" y2="465.6" stroke="#000" stroke-width="1"/>
<text x="0" y="0" font-family='"Liberation Sans", sans-serif' font-size="6.1" font-weight="bold" text-anchor="end" fill="#111" transform="translate(63.75 471) rotate(-45.5)" stroke="#111" stroke-width="0.12">MDA-MB-231</text>
<rect x="68.57" y="370.4" width="6.7" height="92.6" fill="#aaaaaa" stroke="#8c8c8c" stroke-width="0.4"/>
<line x1="71.92" y1="366.05" x2="71.92" y2="374.75" stroke="#666" stroke-width="0.65"/>
<line x1="70.22" y1="366.05" x2="73.62" y2="366.05" stroke="#666" stroke-width="0.85"/>
<line x1="70.22" y1="374.75" x2="73.62" y2="374.75" stroke="#666" stroke-width="0.85"/>
<line x1="71.92" y1="463" x2="71.92" y2="465.6" stroke="#000" stroke-width="1"/>
<text x="0" y="0" font-family='"Liberation Sans", sans-serif' font-size="6.1" font-weight="bold" text-anchor="end" fill="#111" transform="translate(74.72 471) rotate(-45.5)" stroke="#111" stroke-width="0.12">MDA-MB-231+Adam8-Apt1</text>
<rect x="79.54" y="370.4" width="6.7" height="92.6" fill="#8a8a8a" stroke="#6e6e6e" stroke-width="0.4"/>
<line x1="82.89" y1="366.05" x2="82.89" y2="374.75" stroke="#666" stroke-width="0.65"/>
<line x1="81.19" y1="366.05" x2="84.59" y2="366.05" stroke="#666" stroke-width="0.85"/>
<line x1="81.19" y1="374.75" x2="84.59" y2="374.75" stroke="#666" stroke-width="0.85"/>
<line x1="82.89" y1="463" x2="82.89" y2="465.6" stroke="#000" stroke-width="1"/>
<text x="0" y="0" font-family='"Liberation Sans", sans-serif' font-size="6.1" font-weight="bold" text-anchor="end" fill="#111" transform="translate(85.69 471) rotate(-45.5)" stroke="#111" stroke-width="0.12">MDA-MB-231+random RNA oligo ctr</text>
<rect x="90.51" y="453.74" width="6.7" height="9.26" fill="#dcdcdc" stroke="#a8a8a8" stroke-width="0.4"/>
<line x1="93.86" y1="453.74" x2="93.86" y2="453.74" stroke="#666" stroke-width="0.65"/>
<line x1="91.96" y1="453.74" x2="95.76" y2="453.74" stroke="#666" stroke-width="0.85"/>
<line x1="91.96" y1="453.74" x2="95.76" y2="453.74" stroke="#666" stroke-width="0.85"/>
<line x1="93.86" y1="463" x2="93.86" y2="465.6" stroke="#000" stroke-width="1"/>
<text x="0" y="0" font-family='"Liberation Sans", sans-serif' font-size="6.1" font-weight="bold" text-anchor="end" fill="#111" transform="translate(96.66 471) rotate(-45.5)" stroke="#111" stroke-width="0.12">MDA-MB-231+BBI 608</text>
<rect x="101.48" y="370.4" width="6.7" height="92.6" fill="#a8a8a8" stroke="#8c8c8c" stroke-width="0.4"/>
<line x1="104.83" y1="366.05" x2="104.83" y2="370.4" stroke="#666" stroke-width="0.65"/>
<line x1="103.13" y1="366.05" x2="106.53" y2="366.05" stroke="#666" stroke-width="0.85"/>
<line x1="104.83" y1="463" x2="104.83" y2="465.6" stroke="#000" stroke-width="1"/>
<text x="0" y="0" font-family='"Liberation Sans", sans-serif' font-size="6.1" font-weight="bold" text-anchor="end" fill="#111" transform="translate(107.63 471) rotate(-45.5)" stroke="#111" stroke-width="0.12">HepG2</text>
<rect x="112.45" y="370.4" width="6.7" height="92.6" fill="#989898" stroke="#7c7c7c" stroke-width="0.4"/>
<line x1="115.8" y1="366.05" x2="115.8" y2="370.4" stroke="#666" stroke-width="0.65"/>
<line x1="114.1" y1="366.05" x2="117.5" y2="366.05" stroke="#666" stroke-width="0.85"/>
<line x1="115.8" y1="463" x2="115.8" y2="465.6" stroke="#000" stroke-width="1"/>
<text x="0" y="0" font-family='"Liberation Sans", sans-serif' font-size="6.1" font-weight="bold" text-anchor="end" fill="#111" transform="translate(118.6 471) rotate(-45.5)" stroke="#111" stroke-width="0.12">HepG2+Adam8-Apt1</text>
<rect x="123.42" y="370.4" width="6.7" height="92.6" fill="url(#pc)" stroke="#9a9a9a" stroke-width="0.4"/>
<line x1="126.77" y1="366.05" x2="126.77" y2="370.4" stroke="#666" stroke-width="0.65"/>
<line x1="125.07" y1="366.05" x2="128.47" y2="366.05" stroke="#666" stroke-width="0.85"/>
<line x1="126.77" y1="463" x2="126.77" y2="465.6" stroke="#000" stroke-width="1"/>
<text x="0" y="0" font-family='"Liberation Sans", sans-serif' font-size="6.1" font-weight="bold" text-anchor="end" fill="#111" transform="translate(129.57 471) rotate(-45.5)" stroke="#111" stroke-width="0.12">HepG2+random RNA oligo ctr</text>
<rect x="134.39" y="453.74" width="6.7" height="9.26" fill="#e0e0e0" stroke="#a8a8a8" stroke-width="0.4"/>
<line x1="137.74" y1="453.74" x2="137.74" y2="453.74" stroke="#666" stroke-width="0.65"/>
<line x1="135.84" y1="453.74" x2="139.64" y2="453.74" stroke="#666" stroke-width="0.85"/>
<line x1="135.84" y1="453.74" x2="139.64" y2="453.74" stroke="#666" stroke-width="0.85"/>
<line x1="137.74" y1="463" x2="137.74" y2="465.6" stroke="#000" stroke-width="1"/>
<text x="0" y="0" font-family='"Liberation Sans", sans-serif' font-size="6.1" font-weight="bold" text-anchor="end" fill="#111" transform="translate(140.54 471) rotate(-45.5)" stroke="#111" stroke-width="0.12">HepG2+BBI 608</text>
<line x1="53.7" y1="361.1" x2="53.7" y2="463.5" stroke="#000" stroke-width="0.95"/>
<line x1="51.1" y1="463" x2="145.1" y2="463" stroke="#000" stroke-width="1"/>
<line x1="51.9" y1="458.37" x2="53.7" y2="458.37" stroke="#000" stroke-width="0.75"/>
<line x1="51.9" y1="453.74" x2="53.7" y2="453.74" stroke="#000" stroke-width="0.75"/>
<line x1="51.9" y1="449.11" x2="53.7" y2="449.11" stroke="#000" stroke-width="0.75"/>
<line x1="51.9" y1="444.48" x2="53.7" y2="444.48" stroke="#000" stroke-width="0.75"/>
<line x1="51.9" y1="439.85" x2="53.7" y2="439.85" stroke="#000" stroke-width="0.75"/>
<line x1="51.9" y1="435.22" x2="53.7" y2="435.22" stroke="#000" stroke-width="0.75"/>
<line x1="51.9" y1="430.59" x2="53.7" y2="430.59" stroke="#000" stroke-width="0.75"/>
<line x1="51.9" y1="425.96" x2="53.7" y2="425.96" stroke="#000" stroke-width="0.75"/>
<line x1="51.9" y1="421.33" x2="53.7" y2="421.33" stroke="#000" stroke-width="0.75"/>
<line x1="51.1" y1="416.7" x2="53.7" y2="416.7" stroke="#000" stroke-width="0.85"/>
<line x1="51.9" y1="412.07" x2="53.7" y2="412.07" stroke="#000" stroke-width="0.75"/>
<line x1="51.9" y1="407.44" x2="53.7" y2="407.44" stroke="#000" stroke-width="0.75"/>
<line x1="51.9" y1="402.81" x2="53.7" y2="402.81" stroke="#000" stroke-width="0.75"/>
<line x1="51.9" y1="398.18" x2="53.7" y2="398.18" stroke="#000" stroke-width="0.75"/>
<line x1="51.9" y1="393.55" x2="53.7" y2="393.55" stroke="#000" stroke-width="0.75"/>
<line x1="51.9" y1="388.92" x2="53.7" y2="388.92" stroke="#000" stroke-width="0.75"/>
<line x1="51.9" y1="384.29" x2="53.7" y2="384.29" stroke="#000" stroke-width="0.75"/>
<line x1="51.9" y1="379.66" x2="53.7" y2="379.66" stroke="#000" stroke-width="0.75"/>
<line x1="51.9" y1="375.03" x2="53.7" y2="375.03" stroke="#000" stroke-width="0.75"/>
<line x1="51.1" y1="370.4" x2="53.7" y2="370.4" stroke="#000" stroke-width="0.85"/>
<line x1="51.9" y1="365.77" x2="53.7" y2="365.77" stroke="#000" stroke-width="0.75"/>
<line x1="51.9" y1="361.14" x2="53.7" y2="361.14" stroke="#000" stroke-width="0.75"/>
<text x="49.9" y="464.55" font-family='"Liberation Sans", sans-serif' font-size="4.3" font-weight="bold" text-anchor="end" fill="#111" stroke="#111" stroke-width="0.12">0.0</text>
<text x="49.9" y="418.25" font-family='"Liberation Sans", sans-serif' font-size="4.3" font-weight="bold" text-anchor="end" fill="#111" stroke="#111" stroke-width="0.12">0.5</text>
<text x="49.9" y="371.95" font-family='"Liberation Sans", sans-serif' font-size="4.3" font-weight="bold" text-anchor="end" fill="#111" stroke="#111" stroke-width="0.12">1.0</text>
<text x="0" y="0" font-family='"Liberation Sans", sans-serif' font-size="6.1" font-weight="bold" text-anchor="middle" fill="#000" transform="translate(40.3 412.3) rotate(-90)" textLength="33.8" lengthAdjust="spacingAndGlyphs" stroke="#000" stroke-width="0.1">ΔΔCT value</text>
<text x="93.2" y="358.5" font-family='"Liberation Sans", sans-serif' font-size="7.1" font-weight="bold" text-anchor="middle" fill="#111" textLength="16.2" lengthAdjust="spacingAndGlyphs">Sox2</text>
<rect x="192.2" y="366.6" width="8.6" height="94.85" fill="#000" stroke="#000" stroke-width="0.4"/>
<line x1="196.5" y1="362.14" x2="196.5" y2="366.6" stroke="#333" stroke-width="0.65"/>
<line x1="194.35" y1="362.14" x2="198.65" y2="362.14" stroke="#333" stroke-width="0.85"/>
<line x1="196.5" y1="461.45" x2="196.5" y2="464.05" stroke="#000" stroke-width="1"/>
<text x="0" y="0" font-family='"Liberation Sans", sans-serif' font-size="6.4" font-weight="bold" text-anchor="end" fill="#111" transform="translate(199.1 469.45) rotate(-45)" stroke="#111" stroke-width="0.12">MDA-MB-231</text>
<rect x="205.82" y="366.6" width="8.6" height="94.85" fill="#aaaaaa" stroke="#8c8c8c" stroke-width="0.4"/>
<line x1="210.12" y1="362.14" x2="210.12" y2="371.06" stroke="#333" stroke-width="0.65"/>
<line x1="207.97" y1="362.14" x2="212.27" y2="362.14" stroke="#333" stroke-width="0.85"/>
<line x1="207.97" y1="371.06" x2="212.27" y2="371.06" stroke="#333" stroke-width="0.85"/>
<line x1="210.12" y1="461.45" x2="210.12" y2="464.05" stroke="#000" stroke-width="1"/>
<text x="0" y="0" font-family='"Liberation Sans", sans-serif' font-size="6.4" font-weight="bold" text-anchor="end" fill="#111" transform="translate(212.72 469.45) rotate(-45)" stroke="#111" stroke-width="0.12">MDA-MB-231+Adam8-Apt1</text>
<rect x="219.44" y="366.6" width="8.6" height="94.85" fill="#8a8a8a" stroke="#6e6e6e" stroke-width="0.4"/>
<line x1="223.74" y1="362.14" x2="223.74" y2="371.06" stroke="#333" stroke-width="0.65"/>
<line x1="221.59" y1="362.14" x2="225.89" y2="362.14" stroke="#333" stroke-width="0.85"/>
<line x1="221.59" y1="371.06" x2="225.89" y2="371.06" stroke="#333" stroke-width="0.85"/>
<line x1="223.74" y1="461.45" x2="223.74" y2="464.05" stroke="#000" stroke-width="1"/>
<text x="0" y="0" font-family='"Liberation Sans", sans-serif' font-size="6.4" font-weight="bold" text-anchor="end" fill="#111" transform="translate(226.34 469.45) rotate(-45)" stroke="#111" stroke-width="0.12">MDA-MB-231+random RNA oligo ctr</text>
<rect x="233.06" y="451.96" width="8.6" height="9.49" fill="#dcdcdc" stroke="#a8a8a8" stroke-width="0.4"/>
<line x1="237.36" y1="451.96" x2="237.36" y2="451.96" stroke="#333" stroke-width="0.65"/>
<line x1="234.95" y1="451.96" x2="239.77" y2="451.96" stroke="#333" stroke-width="0.85"/>
<line x1="234.95" y1="451.96" x2="239.77" y2="451.96" stroke="#333" stroke-width="0.85"/>
<line x1="237.36" y1="461.45" x2="237.36" y2="464.05" stroke="#000" stroke-width="1"/>
<text x="0" y="0" font-family='"Liberation Sans", sans-serif' font-size="6.4" font-weight="bold" text-anchor="end" fill="#111" transform="translate(239.96 469.45) rotate(-45)" stroke="#111" stroke-width="0.12">MDA-MB-231+BBI 608</text>
<rect x="246.68" y="366.6" width="8.6" height="94.85" fill="#a8a8a8" stroke="#8c8c8c" stroke-width="0.4"/>
<line x1="250.98" y1="362.14" x2="250.98" y2="366.6" stroke="#333" stroke-width="0.65"/>
<line x1="248.83" y1="362.14" x2="253.13" y2="362.14" stroke="#333" stroke-width="0.85"/>
<line x1="250.98" y1="461.45" x2="250.98" y2="464.05" stroke="#000" stroke-width="1"/>
<text x="0" y="0" font-family='"Liberation Sans", sans-serif' font-size="6.4" font-weight="bold" text-anchor="end" fill="#111" transform="translate(253.58 469.45) rotate(-45)" stroke="#111" stroke-width="0.12">HepG2</text>
<rect x="260.3" y="366.6" width="8.6" height="94.85" fill="#989898" stroke="#7c7c7c" stroke-width="0.4"/>
<line x1="264.6" y1="362.14" x2="264.6" y2="366.6" stroke="#333" stroke-width="0.65"/>
<line x1="262.45" y1="362.14" x2="266.75" y2="362.14" stroke="#333" stroke-width="0.85"/>
<line x1="264.6" y1="461.45" x2="264.6" y2="464.05" stroke="#000" stroke-width="1"/>
<text x="0" y="0" font-family='"Liberation Sans", sans-serif' font-size="6.4" font-weight="bold" text-anchor="end" fill="#111" transform="translate(267.2 469.45) rotate(-45)" stroke="#111" stroke-width="0.12">HepG2+Adam8-Apt1</text>
<rect x="273.92" y="366.6" width="8.6" height="94.85" fill="url(#pc)" stroke="#9a9a9a" stroke-width="0.4"/>
<line x1="278.22" y1="362.14" x2="278.22" y2="366.6" stroke="#333" stroke-width="0.65"/>
<line x1="276.07" y1="362.14" x2="280.37" y2="362.14" stroke="#333" stroke-width="0.85"/>
<line x1="278.22" y1="461.45" x2="278.22" y2="464.05" stroke="#000" stroke-width="1"/>
<text x="0" y="0" font-family='"Liberation Sans", sans-serif' font-size="6.4" font-weight="bold" text-anchor="end" fill="#111" transform="translate(280.82 469.45) rotate(-45)" stroke="#111" stroke-width="0.12">HepG2+random RNA oligo ctr</text>
<rect x="287.54" y="451.96" width="8.6" height="9.49" fill="#e0e0e0" stroke="#a8a8a8" stroke-width="0.4"/>
<line x1="291.84" y1="451.96" x2="291.84" y2="451.96" stroke="#333" stroke-width="0.65"/>
<line x1="289.43" y1="451.96" x2="294.25" y2="451.96" stroke="#333" stroke-width="0.85"/>
<line x1="289.43" y1="451.96" x2="294.25" y2="451.96" stroke="#333" stroke-width="0.85"/>
<line x1="291.84" y1="461.45" x2="291.84" y2="464.05" stroke="#000" stroke-width="1"/>
<text x="0" y="0" font-family='"Liberation Sans", sans-serif' font-size="6.4" font-weight="bold" text-anchor="end" fill="#111" transform="translate(294.44 469.45) rotate(-45)" stroke="#111" stroke-width="0.12">HepG2+BBI 608</text>
<line x1="187.3" y1="356.8" x2="187.3" y2="461.95" stroke="#000" stroke-width="0.95"/>
<line x1="184.7" y1="461.45" x2="300.9" y2="461.45" stroke="#000" stroke-width="1"/>
<line x1="185.5" y1="456.71" x2="187.3" y2="456.71" stroke="#000" stroke-width="0.75"/>
<line x1="185.5" y1="451.96" x2="187.3" y2="451.96" stroke="#000" stroke-width="0.75"/>
<line x1="185.5" y1="447.22" x2="187.3" y2="447.22" stroke="#000" stroke-width="0.75"/>
<line x1="185.5" y1="442.48" x2="187.3" y2="442.48" stroke="#000" stroke-width="0.75"/>
<line x1="185.5" y1="437.74" x2="187.3" y2="437.74" stroke="#000" stroke-width="0.75"/>
<line x1="185.5" y1="433" x2="187.3" y2="433" stroke="#000" stroke-width="0.75"/>
<line x1="185.5" y1="428.25" x2="187.3" y2="428.25" stroke="#000" stroke-width="0.75"/>
<line x1="185.5" y1="423.51" x2="187.3" y2="423.51" stroke="#000" stroke-width="0.75"/>
<line x1="185.5" y1="418.77" x2="187.3" y2="418.77" stroke="#000" stroke-width="0.75"/>
<line x1="184.7" y1="414.02" x2="187.3" y2="414.02" stroke="#000" stroke-width="0.85"/>
<line x1="185.5" y1="409.28" x2="187.3" y2="409.28" stroke="#000" stroke-width="0.75"/>
<line x1="185.5" y1="404.54" x2="187.3" y2="404.54" stroke="#000" stroke-width="0.75"/>
<line x1="185.5" y1="399.8" x2="187.3" y2="399.8" stroke="#000" stroke-width="0.75"/>
<line x1="185.5" y1="395.06" x2="187.3" y2="395.06" stroke="#000" stroke-width="0.75"/>
<line x1="185.5" y1="390.31" x2="187.3" y2="390.31" stroke="#000" stroke-width="0.75"/>
<line x1="185.5" y1="385.57" x2="187.3" y2="385.57" stroke="#000" stroke-width="0.75"/>
<line x1="185.5" y1="380.83" x2="187.3" y2="380.83" stroke="#000" stroke-width="0.75"/>
<line x1="185.5" y1="376.08" x2="187.3" y2="376.08" stroke="#000" stroke-width="0.75"/>
<line x1="185.5" y1="371.34" x2="187.3" y2="371.34" stroke="#000" stroke-width="0.75"/>
<line x1="184.7" y1="366.6" x2="187.3" y2="366.6" stroke="#000" stroke-width="0.85"/>
<line x1="185.5" y1="361.86" x2="187.3" y2="361.86" stroke="#000" stroke-width="0.75"/>
<line x1="185.5" y1="357.12" x2="187.3" y2="357.12" stroke="#000" stroke-width="0.75"/>
<text x="183.5" y="463.11" font-family='"Liberation Sans", sans-serif' font-size="4.6" font-weight="bold" text-anchor="end" fill="#111" stroke="#111" stroke-width="0.12">0.0</text>
<text x="183.5" y="415.68" font-family='"Liberation Sans", sans-serif' font-size="4.6" font-weight="bold" text-anchor="end" fill="#111" stroke="#111" stroke-width="0.12">0.5</text>
<text x="183.5" y="368.26" font-family='"Liberation Sans", sans-serif' font-size="4.6" font-weight="bold" text-anchor="end" fill="#111" stroke="#111" stroke-width="0.12">1.0</text>
<text x="0" y="0" font-family='"Liberation Sans", sans-serif' font-size="6.3" font-weight="bold" text-anchor="middle" fill="#000" transform="translate(173.5 410) rotate(-90)" textLength="35" lengthAdjust="spacingAndGlyphs" stroke="#000" stroke-width="0.1">ΔΔCT value</text>
<text x="236" y="358.2" font-family='"Liberation Sans", sans-serif' font-size="6.8" font-weight="bold" text-anchor="middle" fill="#111" textLength="21.6" lengthAdjust="spacingAndGlyphs">Nanog</text>
<rect x="364.5" y="367.9" width="7.8" height="86.05" fill="#000" stroke="#000" stroke-width="0.4"/>
<line x1="368.4" y1="363.86" x2="368.4" y2="367.9" stroke="#555" stroke-width="0.65"/>
<line x1="366.3" y1="363.86" x2="370.5" y2="363.86" stroke="#555" stroke-width="0.85"/>
<line x1="368.4" y1="453.95" x2="368.4" y2="456.55" stroke="#000" stroke-width="1"/>
<text x="0" y="0" font-family='"Liberation Sans", sans-serif' font-size="7" font-weight="bold" text-anchor="end" fill="#111" transform="translate(370.2 462.95) rotate(-43)" stroke="#111" stroke-width="0.12">MDA-MB-231</text>
<rect x="376.57" y="367.9" width="7.8" height="86.05" fill="#aaaaaa" stroke="#8c8c8c" stroke-width="0.4"/>
<line x1="380.47" y1="363.86" x2="380.47" y2="371.94" stroke="#555" stroke-width="0.65"/>
<line x1="378.37" y1="363.86" x2="382.57" y2="363.86" stroke="#555" stroke-width="0.85"/>
<line x1="378.37" y1="371.94" x2="382.57" y2="371.94" stroke="#555" stroke-width="0.85"/>
<line x1="380.47" y1="453.95" x2="380.47" y2="456.55" stroke="#000" stroke-width="1"/>
<text x="0" y="0" font-family='"Liberation Sans", sans-serif' font-size="7" font-weight="bold" text-anchor="end" fill="#111" transform="translate(382.27 462.95) rotate(-43)" stroke="#111" stroke-width="0.12">MDA-MB-231+Adam8-Apt1</text>
<rect x="388.64" y="367.9" width="7.8" height="86.05" fill="#8a8a8a" stroke="#6e6e6e" stroke-width="0.4"/>
<line x1="392.54" y1="363.86" x2="392.54" y2="371.94" stroke="#555" stroke-width="0.65"/>
<line x1="390.44" y1="363.86" x2="394.64" y2="363.86" stroke="#555" stroke-width="0.85"/>
<line x1="390.44" y1="371.94" x2="394.64" y2="371.94" stroke="#555" stroke-width="0.85"/>
<line x1="392.54" y1="453.95" x2="392.54" y2="456.55" stroke="#000" stroke-width="1"/>
<text x="0" y="0" font-family='"Liberation Sans", sans-serif' font-size="7" font-weight="bold" text-anchor="end" fill="#111" transform="translate(394.34 462.95) rotate(-43)" stroke="#111" stroke-width="0.12">MDA-MB-231+random RNA oligo ctr</text>
<rect x="400.71" y="436.74" width="7.8" height="17.21" fill="#dcdcdc" stroke="#a8a8a8" stroke-width="0.4"/>
<line x1="404.61" y1="436.74" x2="404.61" y2="436.74" stroke="#555" stroke-width="0.65"/>
<line x1="402.26" y1="436.74" x2="406.96" y2="436.74" stroke="#555" stroke-width="0.85"/>
<line x1="402.26" y1="436.74" x2="406.96" y2="436.74" stroke="#555" stroke-width="0.85"/>
<line x1="404.61" y1="453.95" x2="404.61" y2="456.55" stroke="#000" stroke-width="1"/>
<text x="0" y="0" font-family='"Liberation Sans", sans-serif' font-size="7" font-weight="bold" text-anchor="end" fill="#111" transform="translate(406.41 462.95) rotate(-43)" stroke="#111" stroke-width="0.12">MDA-MB-231+BBI 608</text>
<rect x="412.78" y="367.9" width="7.8" height="86.05" fill="#a8a8a8" stroke="#8c8c8c" stroke-width="0.4"/>
<line x1="416.68" y1="363.86" x2="416.68" y2="367.9" stroke="#555" stroke-width="0.65"/>
<line x1="414.58" y1="363.86" x2="418.78" y2="363.86" stroke="#555" stroke-width="0.85"/>
<line x1="416.68" y1="453.95" x2="416.68" y2="456.55" stroke="#000" stroke-width="1"/>
<text x="0" y="0" font-family='"Liberation Sans", sans-serif' font-size="7" font-weight="bold" text-anchor="end" fill="#111" transform="translate(418.48 462.95) rotate(-43)" stroke="#111" stroke-width="0.12">HepG2</text>
<rect x="424.85" y="367.9" width="7.8" height="86.05" fill="#989898" stroke="#7c7c7c" stroke-width="0.4"/>
<line x1="428.75" y1="363.86" x2="428.75" y2="367.9" stroke="#555" stroke-width="0.65"/>
<line x1="426.65" y1="363.86" x2="430.85" y2="363.86" stroke="#555" stroke-width="0.85"/>
<line x1="428.75" y1="453.95" x2="428.75" y2="456.55" stroke="#000" stroke-width="1"/>
<text x="0" y="0" font-family='"Liberation Sans", sans-serif' font-size="7" font-weight="bold" text-anchor="end" fill="#111" transform="translate(430.55 462.95) rotate(-43)" stroke="#111" stroke-width="0.12">HepG2+Adam8-Apt1</text>
<rect x="436.92" y="367.9" width="7.8" height="86.05" fill="url(#pc2)" stroke="#9a9a9a" stroke-width="0.4"/>
<line x1="440.82" y1="363.86" x2="440.82" y2="367.9" stroke="#555" stroke-width="0.65"/>
<line x1="438.72" y1="363.86" x2="442.92" y2="363.86" stroke="#555" stroke-width="0.85"/>
<line x1="440.82" y1="453.95" x2="440.82" y2="456.55" stroke="#000" stroke-width="1"/>
<text x="0" y="0" font-family='"Liberation Sans", sans-serif' font-size="7" font-weight="bold" text-anchor="end" fill="#111" transform="translate(442.62 462.95) rotate(-43)" stroke="#111" stroke-width="0.12">HepG2+random RNA oligo ctr</text>
<rect x="448.99" y="445.34" width="7.8" height="8.61" fill="#e0e0e0" stroke="#a8a8a8" stroke-width="0.4"/>
<line x1="452.89" y1="445.34" x2="452.89" y2="445.34" stroke="#555" stroke-width="0.65"/>
<line x1="450.54" y1="445.34" x2="455.24" y2="445.34" stroke="#555" stroke-width="0.85"/>
<line x1="450.54" y1="445.34" x2="455.24" y2="445.34" stroke="#555" stroke-width="0.85"/>
<line x1="452.89" y1="453.95" x2="452.89" y2="456.55" stroke="#000" stroke-width="1"/>
<text x="0" y="0" font-family='"Liberation Sans", sans-serif' font-size="7" font-weight="bold" text-anchor="end" fill="#111" transform="translate(454.69 462.95) rotate(-43)" stroke="#111" stroke-width="0.12">HepG2+BBI 608</text>
<line x1="360.35" y1="359.1" x2="360.35" y2="454.45" stroke="#000" stroke-width="0.95"/>
<line x1="357.75" y1="453.95" x2="461.2" y2="453.95" stroke="#000" stroke-width="1"/>
<line x1="358.55" y1="449.65" x2="360.35" y2="449.65" stroke="#000" stroke-width="0.75"/>
<line x1="358.55" y1="445.34" x2="360.35" y2="445.34" stroke="#000" stroke-width="0.75"/>
<line x1="358.55" y1="441.04" x2="360.35" y2="441.04" stroke="#000" stroke-width="0.75"/>
<line x1="358.55" y1="436.74" x2="360.35" y2="436.74" stroke="#000" stroke-width="0.75"/>
<line x1="358.55" y1="432.44" x2="360.35" y2="432.44" stroke="#000" stroke-width="0.75"/>
<line x1="358.55" y1="428.13" x2="360.35" y2="428.13" stroke="#000" stroke-width="0.75"/>
<line x1="358.55" y1="423.83" x2="360.35" y2="423.83" stroke="#000" stroke-width="0.75"/>
<line x1="358.55" y1="419.53" x2="360.35" y2="419.53" stroke="#000" stroke-width="0.75"/>
<line x1="358.55" y1="415.23" x2="360.35" y2="415.23" stroke="#000" stroke-width="0.75"/>
<line x1="357.75" y1="410.93" x2="360.35" y2="410.93" stroke="#000" stroke-width="0.85"/>
<line x1="358.55" y1="406.62" x2="360.35" y2="406.62" stroke="#000" stroke-width="0.75"/>
<line x1="358.55" y1="402.32" x2="360.35" y2="402.32" stroke="#000" stroke-width="0.75"/>
<line x1="358.55" y1="398.02" x2="360.35" y2="398.02" stroke="#000" stroke-width="0.75"/>
<line x1="358.55" y1="393.71" x2="360.35" y2="393.71" stroke="#000" stroke-width="0.75"/>
<line x1="358.55" y1="389.41" x2="360.35" y2="389.41" stroke="#000" stroke-width="0.75"/>
<line x1="358.55" y1="385.11" x2="360.35" y2="385.11" stroke="#000" stroke-width="0.75"/>
<line x1="358.55" y1="380.81" x2="360.35" y2="380.81" stroke="#000" stroke-width="0.75"/>
<line x1="358.55" y1="376.5" x2="360.35" y2="376.5" stroke="#000" stroke-width="0.75"/>
<line x1="358.55" y1="372.2" x2="360.35" y2="372.2" stroke="#000" stroke-width="0.75"/>
<line x1="357.75" y1="367.9" x2="360.35" y2="367.9" stroke="#000" stroke-width="0.85"/>
<line x1="358.55" y1="363.6" x2="360.35" y2="363.6" stroke="#000" stroke-width="0.75"/>
<line x1="358.55" y1="359.29" x2="360.35" y2="359.29" stroke="#000" stroke-width="0.75"/>
<text x="356.55" y="455.64" font-family='"Liberation Sans", sans-serif' font-size="4.7" font-weight="bold" text-anchor="end" fill="#111" stroke="#111" stroke-width="0.12">0.0</text>
<text x="356.55" y="412.62" font-family='"Liberation Sans", sans-serif' font-size="4.7" font-weight="bold" text-anchor="end" fill="#111" stroke="#111" stroke-width="0.12">0.5</text>
<text x="356.55" y="369.59" font-family='"Liberation Sans", sans-serif' font-size="4.7" font-weight="bold" text-anchor="end" fill="#111" stroke="#111" stroke-width="0.12">1.0</text>
<text x="0" y="0" font-family='"Liberation Sans", sans-serif' font-size="6.7" font-weight="bold" text-anchor="middle" fill="#000" transform="translate(344.8 406.8) rotate(-90)" textLength="37.1" lengthAdjust="spacingAndGlyphs" stroke="#000" stroke-width="0.1">ΔΔCT value</text>
<text x="403.4" y="358.3" font-family='"Liberation Sans", sans-serif' font-size="6.9" font-weight="bold" text-anchor="middle" fill="#111" textLength="15.5" lengthAdjust="spacingAndGlyphs">Oct4</text>
</svg>
</body></html>
